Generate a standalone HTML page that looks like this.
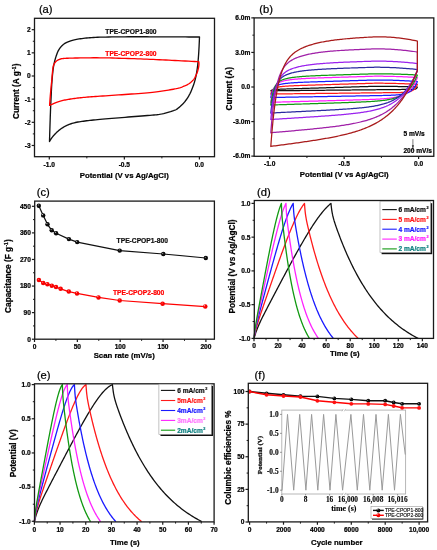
<!DOCTYPE html>
<html><head><meta charset="utf-8"><style>
html,body{margin:0;padding:0;background:#fff;}
body{width:437px;height:550px;overflow:hidden;font-family:"Liberation Sans", sans-serif;}
svg{display:block;will-change:transform;}
</style></head><body>
<svg width="437" height="550" viewBox="0 0 437 550">
<rect width="437" height="550" fill="#fff"/>
<text x="38.9" y="12.9" font-size="11.2" font-weight="normal" text-anchor="start" fill="#000" stroke="#000" stroke-width="0.22" font-family='"Liberation Sans", sans-serif' >(a)</text>
<polyline points="49.5,141.5 49.54,140.23 49.59,138.55 49.65,136.54 49.71,134.31 49.78,131.95 49.86,129.55 49.93,127.2 50,125 50.07,122.87 50.14,120.69 50.22,118.49 50.29,116.28 50.37,114.1 50.45,111.98 50.52,109.94 50.6,108 50.68,106.16 50.75,104.4 50.83,102.7 50.91,101.06 50.98,99.48 51.06,97.95 51.13,96.45 51.2,95 51.27,93.61 51.33,92.29 51.38,91.03 51.44,89.81 51.49,88.62 51.56,87.43 51.62,86.23 51.7,85 51.78,83.73 51.88,82.44 51.97,81.14 52.08,79.84 52.18,78.57 52.29,77.32 52.39,76.13 52.5,75 52.61,73.93 52.71,72.91 52.82,71.94 52.92,71 53.04,70.09 53.15,69.21 53.27,68.35 53.4,67.5 53.53,66.67 53.67,65.88 53.81,65.12 53.96,64.38 54.11,63.65 54.26,62.93 54.43,62.22 54.6,61.5 54.78,60.79 54.96,60.08 55.15,59.38 55.35,58.69 55.55,58.01 55.76,57.34 55.98,56.66 56.2,56 56.43,55.34 56.66,54.67 56.89,54.01 57.14,53.35 57.39,52.71 57.65,52.08 57.92,51.48 58.2,50.9 58.49,50.35 58.79,49.82 59.1,49.31 59.42,48.82 59.75,48.34 60.09,47.88 60.44,47.44 60.8,47 61.17,46.58 61.54,46.17 61.92,45.77 62.31,45.39 62.72,45.02 63.13,44.67 63.56,44.33 64,44 64.45,43.69 64.89,43.41 65.34,43.15 65.81,42.89 66.3,42.65 66.82,42.4 67.38,42.16 68,41.9 68.65,41.63 69.31,41.36 70,41.09 70.73,40.82 71.51,40.55 72.36,40.29 73.29,40.04 74.3,39.8 75.4,39.57 76.56,39.35 77.8,39.14 79.11,38.93 80.48,38.73 81.92,38.55 83.43,38.37 85,38.2 86.6,38.04 88.21,37.89 89.87,37.75 91.61,37.63 93.45,37.5 95.45,37.39 97.62,37.29 100,37.2 102.65,37.12 105.55,37.05 108.64,36.99 111.88,36.94 115.19,36.89 118.52,36.86 121.81,36.83 125,36.8 128.12,36.78 131.25,36.77 134.38,36.77 137.5,36.77 140.62,36.78 143.75,36.78 146.88,36.79 150,36.8 153.13,36.81 156.26,36.82 159.4,36.83 162.53,36.84 165.66,36.86 168.79,36.87 171.9,36.89 175,36.9 178.25,36.91 181.73,36.93 185.3,36.94 188.81,36.96 192.13,36.97 195.11,36.98 197.61,36.99 199.5,37 199.47,37.69 199.43,38.59 199.39,39.67 199.34,40.88 199.28,42.16 199.22,43.47 199.16,44.77 199.1,46 199.04,47.2 198.97,48.43 198.9,49.68 198.83,50.94 198.76,52.21 198.68,53.48 198.59,54.74 198.5,56 198.41,57.26 198.31,58.52 198.21,59.79 198.1,61.06 197.99,62.32 197.87,63.57 197.74,64.8 197.6,66 197.45,67.19 197.29,68.37 197.12,69.54 196.95,70.69 196.77,71.82 196.58,72.91 196.39,73.98 196.2,75 196.01,75.98 195.81,76.91 195.61,77.8 195.4,78.67 195.19,79.51 194.97,80.35 194.74,81.17 194.5,82 194.25,82.83 193.99,83.64 193.72,84.44 193.45,85.23 193.17,86.01 192.88,86.78 192.59,87.55 192.3,88.3 192.01,89.05 191.71,89.78 191.41,90.51 191.1,91.23 190.79,91.94 190.47,92.64 190.14,93.33 189.8,94 189.45,94.66 189.1,95.3 188.75,95.94 188.38,96.56 188.01,97.17 187.62,97.78 187.22,98.39 186.8,99 186.37,99.62 185.92,100.24 185.45,100.86 184.98,101.48 184.49,102.08 184,102.67 183.5,103.25 183,103.8 182.49,104.33 181.98,104.85 181.45,105.35 180.92,105.84 180.39,106.31 179.85,106.76 179.32,107.19 178.8,107.6 178.34,107.97 177.97,108.31 177.63,108.61 177.28,108.91 176.86,109.2 176.33,109.5 175.62,109.83 174.7,110.2 173.52,110.63 172.11,111.1 170.54,111.61 168.84,112.12 167.09,112.63 165.33,113.11 163.61,113.54 162,113.9 160.56,114.18 159.26,114.4 158.02,114.57 156.77,114.71 155.42,114.83 153.9,114.96 152.12,115.11 150,115.3 147.5,115.52 144.66,115.76 141.58,116 138.31,116.26 134.95,116.52 131.55,116.78 128.21,117.04 125,117.3 121.81,117.56 118.52,117.83 115.19,118.1 111.88,118.38 108.64,118.64 105.55,118.91 102.65,119.16 100,119.4 97.62,119.62 95.45,119.83 93.45,120.03 91.61,120.22 89.87,120.41 88.21,120.6 86.6,120.79 85,121 83.44,121.21 81.95,121.41 80.55,121.62 79.2,121.82 77.91,122.04 76.67,122.27 75.47,122.53 74.3,122.8 73.17,123.1 72.09,123.42 71.06,123.76 70.07,124.11 69.13,124.48 68.22,124.85 67.35,125.22 66.5,125.6 65.69,125.98 64.93,126.36 64.21,126.76 63.52,127.16 62.87,127.56 62.23,127.97 61.61,128.38 61,128.8 60.41,129.23 59.83,129.66 59.28,130.1 58.75,130.55 58.24,131 57.74,131.44 57.26,131.87 56.8,132.3 56.36,132.72 55.93,133.12 55.53,133.53 55.14,133.93 54.76,134.32 54.4,134.71 54.05,135.11 53.7,135.5 53.36,135.89 53.04,136.29 52.72,136.68 52.42,137.07 52.13,137.46 51.84,137.84 51.57,138.22 51.3,138.6 51.03,138.99 50.77,139.41 50.5,139.83 50.25,140.24 50.02,140.63 49.81,140.98 49.63,141.28 49.5,141.5" fill="none" stroke="#111" stroke-width="1.35" stroke-linejoin="round" stroke-linecap="round" />
<polyline points="49.6,105.4 49.64,104.76 49.7,103.9 49.77,102.89 49.85,101.76 49.93,100.56 50.02,99.34 50.11,98.14 50.2,97 50.29,95.9 50.39,94.77 50.49,93.62 50.59,92.47 50.69,91.33 50.8,90.19 50.9,89.08 51,88 51.1,86.95 51.2,85.93 51.3,84.93 51.41,83.94 51.51,82.96 51.61,81.98 51.7,80.99 51.8,80 51.89,78.98 51.98,77.94 52.07,76.89 52.16,75.84 52.24,74.82 52.33,73.82 52.41,72.88 52.5,72 52.58,71.18 52.66,70.4 52.73,69.66 52.81,68.96 52.89,68.29 52.98,67.66 53.08,67.07 53.2,66.5 53.34,65.97 53.49,65.49 53.65,65.05 53.83,64.64 54.01,64.26 54.2,63.9 54.4,63.54 54.6,63.2 54.81,62.87 55.01,62.56 55.23,62.27 55.45,61.99 55.68,61.73 55.94,61.48 56.21,61.24 56.5,61 56.82,60.77 57.15,60.54 57.5,60.33 57.88,60.12 58.26,59.92 58.66,59.74 59.07,59.56 59.5,59.4 59.89,59.25 60.23,59.12 60.56,58.99 60.91,58.88 61.33,58.78 61.86,58.68 62.54,58.59 63.4,58.5 64.39,58.42 65.44,58.34 66.6,58.27 67.88,58.21 69.33,58.15 70.98,58.09 72.86,58.05 75,58 77.48,57.96 80.31,57.91 83.39,57.87 86.66,57.83 90.04,57.8 93.44,57.79 96.78,57.78 100,57.8 103.12,57.83 106.25,57.89 109.38,57.95 112.5,58.03 115.62,58.12 118.75,58.21 121.88,58.31 125,58.4 128.12,58.5 131.25,58.6 134.38,58.7 137.5,58.81 140.62,58.93 143.75,59.05 146.88,59.17 150,59.3 153.13,59.44 156.28,59.58 159.43,59.73 162.58,59.88 165.71,60.04 168.83,60.19 171.93,60.35 175,60.5 178.2,60.66 181.59,60.83 185.06,61 188.46,61.17 191.67,61.34 194.55,61.48 196.97,61.61 198.8,61.7 198.81,61.95 198.84,62.26 198.87,62.64 198.9,63.07 198.92,63.53 198.94,64.01 198.93,64.51 198.9,65 198.85,65.51 198.78,66.04 198.7,66.6 198.6,67.17 198.49,67.76 198.37,68.35 198.24,68.93 198.1,69.5 197.95,70.06 197.79,70.63 197.62,71.19 197.44,71.76 197.24,72.32 197.04,72.88 196.83,73.44 196.6,74 196.36,74.56 196.11,75.14 195.85,75.71 195.58,76.28 195.3,76.84 195.01,77.39 194.71,77.91 194.4,78.4 194.08,78.86 193.75,79.3 193.41,79.72 193.06,80.13 192.7,80.51 192.34,80.88 191.97,81.25 191.6,81.6 191.24,81.94 190.88,82.26 190.52,82.57 190.16,82.86 189.78,83.15 189.38,83.43 188.96,83.72 188.5,84 188.02,84.28 187.52,84.56 187,84.84 186.46,85.11 185.9,85.38 185.3,85.65 184.67,85.93 184,86.2 183.32,86.48 182.66,86.75 181.97,87.03 181.25,87.3 180.46,87.58 179.59,87.85 178.61,88.12 177.5,88.4 176.24,88.68 174.86,88.95 173.36,89.23 171.78,89.51 170.13,89.79 168.44,90.06 166.72,90.33 165,90.6 163.31,90.86 161.66,91.12 160,91.37 158.28,91.62 156.47,91.87 154.51,92.11 152.37,92.36 150,92.6 147.35,92.84 144.45,93.09 141.36,93.33 138.12,93.57 134.81,93.81 131.48,94.04 128.19,94.27 125,94.5 121.81,94.73 118.52,94.95 115.19,95.18 111.88,95.4 108.64,95.62 105.55,95.82 102.65,96.02 100,96.2 97.62,96.37 95.45,96.51 93.45,96.65 91.61,96.78 89.87,96.91 88.21,97.03 86.6,97.16 85,97.3 83.45,97.44 81.99,97.59 80.61,97.73 79.29,97.88 78.02,98.02 76.78,98.18 75.54,98.33 74.3,98.5 73.05,98.67 71.82,98.85 70.61,99.03 69.42,99.21 68.26,99.4 67.13,99.6 66.04,99.8 65,100 64,100.21 63.04,100.42 62.12,100.64 61.23,100.87 60.38,101.1 59.56,101.33 58.76,101.56 58,101.8 57.27,102.04 56.57,102.3 55.91,102.55 55.27,102.81 54.67,103.07 54.09,103.32 53.53,103.57 53,103.8 52.48,104.03 51.96,104.27 51.46,104.5 50.99,104.73 50.56,104.93 50.17,105.12 49.85,105.28 49.6,105.4" fill="none" stroke="#ff0000" stroke-width="1.35" stroke-linejoin="round" stroke-linecap="round" />
<text x="105.3" y="34" font-size="6.7" font-weight="bold" text-anchor="start" fill="#111" stroke="#111" stroke-width="0.22" font-family='"Liberation Sans", sans-serif' >TPE-CPOP1-800</text>
<text x="105.3" y="55.8" font-size="6.7" font-weight="bold" text-anchor="start" fill="#ff0000" stroke="#ff0000" stroke-width="0.22" font-family='"Liberation Sans", sans-serif' >TPE-CPOP2-800</text>
<rect x="34.5" y="18.3" width="180" height="138.4" fill="none" stroke="#1a1a1a" stroke-width="1.3"/>
<line x1="31.7" y1="29.68" x2="34.5" y2="29.68" stroke="#1a1a1a" stroke-width="1.2" />
<text x="30.7" y="32.03" font-size="6.6" font-weight="bold" text-anchor="end" fill="#000" stroke="#000" stroke-width="0.22" font-family='"Liberation Sans", sans-serif' >2</text>
<line x1="31.7" y1="52.84" x2="34.5" y2="52.84" stroke="#1a1a1a" stroke-width="1.2" />
<text x="30.7" y="55.19" font-size="6.6" font-weight="bold" text-anchor="end" fill="#000" stroke="#000" stroke-width="0.22" font-family='"Liberation Sans", sans-serif' >1</text>
<line x1="31.7" y1="76" x2="34.5" y2="76" stroke="#1a1a1a" stroke-width="1.2" />
<text x="30.7" y="78.35" font-size="6.6" font-weight="bold" text-anchor="end" fill="#000" stroke="#000" stroke-width="0.22" font-family='"Liberation Sans", sans-serif' >0</text>
<line x1="31.7" y1="99.16" x2="34.5" y2="99.16" stroke="#1a1a1a" stroke-width="1.2" />
<text x="30.7" y="101.51" font-size="6.6" font-weight="bold" text-anchor="end" fill="#000" stroke="#000" stroke-width="0.22" font-family='"Liberation Sans", sans-serif' >-1</text>
<line x1="31.7" y1="122.32" x2="34.5" y2="122.32" stroke="#1a1a1a" stroke-width="1.2" />
<text x="30.7" y="124.67" font-size="6.6" font-weight="bold" text-anchor="end" fill="#000" stroke="#000" stroke-width="0.22" font-family='"Liberation Sans", sans-serif' >-2</text>
<line x1="31.7" y1="145.48" x2="34.5" y2="145.48" stroke="#1a1a1a" stroke-width="1.2" />
<text x="30.7" y="147.83" font-size="6.6" font-weight="bold" text-anchor="end" fill="#000" stroke="#000" stroke-width="0.22" font-family='"Liberation Sans", sans-serif' >-3</text>
<line x1="32.82" y1="41.26" x2="34.5" y2="41.26" stroke="#1a1a1a" stroke-width="1" />
<line x1="32.82" y1="64.42" x2="34.5" y2="64.42" stroke="#1a1a1a" stroke-width="1" />
<line x1="32.82" y1="87.58" x2="34.5" y2="87.58" stroke="#1a1a1a" stroke-width="1" />
<line x1="32.82" y1="110.74" x2="34.5" y2="110.74" stroke="#1a1a1a" stroke-width="1" />
<line x1="32.82" y1="133.9" x2="34.5" y2="133.9" stroke="#1a1a1a" stroke-width="1" />
<line x1="49.3" y1="156.7" x2="49.3" y2="159.5" stroke="#1a1a1a" stroke-width="1.2" />
<text x="49.3" y="166.5" font-size="6.6" font-weight="bold" text-anchor="middle" fill="#000" stroke="#000" stroke-width="0.22" font-family='"Liberation Sans", sans-serif' >-1.0</text>
<line x1="124.35" y1="156.7" x2="124.35" y2="159.5" stroke="#1a1a1a" stroke-width="1.2" />
<text x="124.35" y="166.5" font-size="6.6" font-weight="bold" text-anchor="middle" fill="#000" stroke="#000" stroke-width="0.22" font-family='"Liberation Sans", sans-serif' >-0.5</text>
<line x1="199.4" y1="156.7" x2="199.4" y2="159.5" stroke="#1a1a1a" stroke-width="1.2" />
<text x="199.4" y="166.5" font-size="6.6" font-weight="bold" text-anchor="middle" fill="#000" stroke="#000" stroke-width="0.22" font-family='"Liberation Sans", sans-serif' >0.0</text>
<line x1="86.83" y1="156.7" x2="86.83" y2="158.38" stroke="#1a1a1a" stroke-width="1" />
<line x1="161.88" y1="156.7" x2="161.88" y2="158.38" stroke="#1a1a1a" stroke-width="1" />
<text x="124.3" y="177.6" font-size="7.8" font-weight="bold" text-anchor="middle" fill="#000" stroke="#000" stroke-width="0.22" font-family='"Liberation Sans", sans-serif' >Potential (V vs Ag/AgCl)</text>
<text transform="translate(19.3,91.3) rotate(-90)" font-size="8.25" font-weight="bold" text-anchor="middle" stroke="#000" stroke-width="0.22" font-family='"Liberation Sans", sans-serif'>Current (A g<tspan dy="-3.3" dx="0.3" font-size="4.8">-1</tspan><tspan dy="3.3" dx="0.3">)</tspan></text>
<text x="259.3" y="12.9" font-size="11.2" font-weight="normal" text-anchor="start" fill="#000" stroke="#000" stroke-width="0.22" font-family='"Liberation Sans", sans-serif' >(b)</text>
<polyline points="270.8,90.8 270.82,90.79 270.86,90.76 270.93,90.71 271.02,90.65 271.12,90.58 271.25,90.51 271.39,90.43 271.55,90.35 271.73,90.27 271.92,90.19 272.13,90.12 272.35,90.04 272.6,89.97 272.85,89.91 273.12,89.84 273.41,89.79 273.71,89.74 274.03,89.69 274.36,89.64 274.7,89.6 275.06,89.56 275.43,89.53 275.82,89.49 276.21,89.46 276.63,89.43 277.05,89.4 277.49,89.38 277.95,89.35 278.41,89.33 278.89,89.3 279.38,89.28 279.89,89.25 280.4,89.23 280.94,89.2 281.48,89.18 282.03,89.16 282.6,89.13 283.18,89.11 283.77,89.09 284.38,89.07 285,89.04 285.63,89.02 286.27,89 286.92,88.97 287.59,88.95 288.26,88.93 288.95,88.9 289.65,88.88 290.37,88.86 291.09,88.83 291.83,88.81 292.58,88.79 293.34,88.76 294.11,88.74 294.89,88.71 295.68,88.69 296.49,88.66 297.31,88.64 298.13,88.61 298.97,88.59 299.82,88.56 300.69,88.53 301.56,88.51 302.44,88.48 303.34,88.45 304.25,88.42 305.16,88.4 306.09,88.37 307.03,88.34 307.98,88.31 308.94,88.28 309.92,88.25 310.9,88.22 311.89,88.19 312.9,88.16 313.92,88.13 314.94,88.1 315.98,88.07 317.03,88.04 318.09,88.01 319.16,87.98 320.24,87.94 321.33,87.91 322.43,87.88 323.54,87.84 324.66,87.81 325.79,87.78 326.94,87.74 328.09,87.71 329.25,87.67 330.43,87.64 331.61,87.6 332.81,87.57 334.01,87.53 335.23,87.49 336.45,87.46 337.69,87.42 338.94,87.38 340.19,87.34 341.46,87.31 342.74,87.27 344.02,87.23 345.32,87.19 346.63,87.15 347.95,87.11 349.27,87.07 350.61,87.03 351.96,86.99 353.32,86.95 354.68,86.91 356.06,86.87 357.45,86.83 358.85,86.78 360.25,86.74 361.67,86.7 363.1,86.66 364.54,86.61 365.98,86.57 367.44,86.53 368.91,86.48 370.38,86.44 371.87,86.39 373.36,86.35 374.87,86.3 376.39,86.3 377.91,86.3 379.45,86.31 380.99,86.31 382.55,86.32 384.11,86.33 385.68,86.34 387.27,86.36 388.86,86.37 390.46,86.39 392.07,86.41 393.7,86.44 395.33,86.46 396.97,86.49 398.62,86.52 400.28,86.55 401.95,86.58 403.63,86.62 405.32,86.66 407.01,86.7 408.72,86.74 410.44,86.79 412.16,86.84 413.9,86.89 415.65,86.94 417.4,87 417.4,87 417.35,87.11 417.25,87.33 417.12,87.59 416.96,87.86 416.77,88.13 416.55,88.37 416.31,88.58 416.05,88.76 415.77,88.91 415.48,89.03 415.16,89.13 414.82,89.2 414.47,89.25 414.1,89.29 413.72,89.32 413.32,89.34 412.9,89.36 412.47,89.37 412.02,89.38 411.57,89.39 411.09,89.4 410.6,89.4 410.1,89.41 409.59,89.42 409.06,89.42 408.52,89.43 407.97,89.43 407.4,89.44 406.83,89.44 406.24,89.45 405.64,89.46 405.02,89.46 404.4,89.47 403.76,89.47 403.11,89.48 402.46,89.49 401.79,89.49 401.11,89.5 400.41,89.51 399.71,89.51 399,89.52 398.28,89.53 397.54,89.54 396.8,89.54 396.04,89.55 395.28,89.56 394.5,89.57 393.72,89.57 392.93,89.58 392.12,89.59 391.31,89.6 390.49,89.61 389.65,89.61 388.81,89.62 387.96,89.63 387.1,89.64 386.23,89.65 385.35,89.66 384.46,89.67 383.56,89.68 382.65,89.68 381.74,89.69 380.81,89.7 379.88,89.71 378.94,89.72 377.99,89.73 377.03,89.74 376.06,89.75 375.08,89.76 374.09,89.77 373.1,89.78 372.1,89.79 371.09,89.8 370.07,89.81 369.04,89.82 368,89.83 366.96,89.84 365.91,89.85 364.85,89.86 363.78,89.87 362.7,89.88 361.62,89.89 360.53,89.91 359.43,89.92 358.32,89.93 357.2,89.94 356.08,89.95 354.95,89.96 353.81,89.97 352.66,89.98 351.5,90 350.34,90.01 349.17,90.02 347.99,90.03 346.81,90.04 345.62,90.05 344.42,90.07 343.21,90.08 341.99,90.09 340.77,90.1 339.54,90.11 338.31,90.13 337.06,90.14 335.81,90.15 334.55,90.16 333.28,90.18 332.01,90.19 330.73,90.2 329.44,90.22 328.15,90.23 326.85,90.24 325.54,90.25 324.22,90.27 322.9,90.28 321.57,90.29 320.23,90.31 318.89,90.32 317.54,90.33 316.18,90.35 314.82,90.36 313.45,90.37 312.07,90.39 310.68,90.4 309.29,90.42 307.89,90.43 306.49,90.44 305.08,90.46 303.66,90.47 302.23,90.49 300.8,90.5 299.36,90.52 297.92,90.53 296.47,90.54 295.01,90.56 293.54,90.57 292.07,90.59 290.59,90.6 289.11,90.62 287.62,90.63 286.12,90.65 284.62,90.66 283.11,90.68 281.59,90.69 280.07,90.71 278.54,90.72 277,90.74 275.46,90.75 273.91,90.77 272.36,90.78 270.8,90.8" fill="none" stroke="#111111" stroke-width="1.25" stroke-linejoin="round" stroke-linecap="round" />
<polyline points="270.8,94 270.82,93.94 270.86,93.8 270.93,93.59 271.02,93.32 271.12,93.01 271.25,92.67 271.39,92.31 271.55,91.93 271.73,91.54 271.92,91.16 272.13,90.78 272.35,90.41 272.6,90.06 272.85,89.73 273.12,89.42 273.41,89.13 273.71,88.87 274.03,88.62 274.36,88.4 274.7,88.19 275.06,88.01 275.43,87.84 275.82,87.69 276.21,87.55 276.63,87.42 277.05,87.3 277.49,87.2 277.95,87.1 278.41,87.01 278.89,86.93 279.38,86.85 279.89,86.77 280.4,86.7 280.94,86.64 281.48,86.57 282.03,86.51 282.6,86.46 283.18,86.4 283.77,86.35 284.38,86.3 285,86.25 285.63,86.2 286.27,86.16 286.92,86.11 287.59,86.07 288.26,86.03 288.95,85.99 289.65,85.95 290.37,85.91 291.09,85.87 291.83,85.83 292.58,85.8 293.34,85.76 294.11,85.73 294.89,85.7 295.68,85.66 296.49,85.63 297.31,85.6 298.13,85.57 298.97,85.53 299.82,85.5 300.69,85.47 301.56,85.44 302.44,85.41 303.34,85.38 304.25,85.35 305.16,85.32 306.09,85.29 307.03,85.26 307.98,85.23 308.94,85.2 309.92,85.16 310.9,85.13 311.89,85.1 312.9,85.07 313.92,85.04 314.94,85.01 315.98,84.98 317.03,84.94 318.09,84.91 319.16,84.88 320.24,84.85 321.33,84.81 322.43,84.78 323.54,84.75 324.66,84.71 325.79,84.68 326.94,84.64 328.09,84.61 329.25,84.57 330.43,84.54 331.61,84.5 332.81,84.47 334.01,84.43 335.23,84.39 336.45,84.36 337.69,84.32 338.94,84.28 340.19,84.24 341.46,84.21 342.74,84.17 344.02,84.13 345.32,84.09 346.63,84.05 347.95,84.01 349.27,83.97 350.61,83.93 351.96,83.89 353.32,83.85 354.68,83.81 356.06,83.77 357.45,83.73 358.85,83.68 360.25,83.64 361.67,83.6 363.1,83.56 364.54,83.51 365.98,83.47 367.44,83.43 368.91,83.38 370.38,83.34 371.87,83.29 373.36,83.25 374.87,83.2 376.39,83.2 377.91,83.21 379.45,83.21 380.99,83.22 382.55,83.23 384.11,83.25 385.68,83.27 387.27,83.29 388.86,83.32 390.46,83.35 392.07,83.38 393.7,83.41 395.33,83.45 396.97,83.5 398.62,83.54 400.28,83.59 401.95,83.64 403.63,83.7 405.32,83.76 407.01,83.83 408.72,83.9 410.44,83.97 412.16,84.05 413.9,84.13 415.65,84.21 417.4,84.3 417.4,84.3 417.35,84.42 417.25,84.65 417.12,84.95 416.96,85.3 416.77,85.7 416.55,86.11 416.31,86.54 416.05,86.98 415.77,87.41 415.48,87.84 415.16,88.25 414.82,88.65 414.47,89.02 414.1,89.38 413.72,89.71 413.32,90.02 412.9,90.3 412.47,90.56 412.02,90.8 411.57,91.01 411.09,91.2 410.6,91.38 410.1,91.53 409.59,91.67 409.06,91.79 408.52,91.89 407.97,91.99 407.4,92.07 406.83,92.14 406.24,92.2 405.64,92.26 405.02,92.3 404.4,92.34 403.76,92.38 403.11,92.41 402.46,92.44 401.79,92.46 401.11,92.49 400.41,92.51 399.71,92.52 399,92.54 398.28,92.55 397.54,92.57 396.8,92.58 396.04,92.59 395.28,92.6 394.5,92.61 393.72,92.62 392.93,92.63 392.12,92.65 391.31,92.66 390.49,92.66 389.65,92.67 388.81,92.68 387.96,92.69 387.1,92.7 386.23,92.71 385.35,92.72 384.46,92.73 383.56,92.74 382.65,92.75 381.74,92.76 380.81,92.78 379.88,92.79 378.94,92.8 377.99,92.81 377.03,92.82 376.06,92.83 375.08,92.84 374.09,92.85 373.1,92.86 372.1,92.87 371.09,92.88 370.07,92.89 369.04,92.91 368,92.92 366.96,92.93 365.91,92.94 364.85,92.95 363.78,92.96 362.7,92.98 361.62,92.99 360.53,93 359.43,93.01 358.32,93.03 357.2,93.04 356.08,93.05 354.95,93.06 353.81,93.08 352.66,93.09 351.5,93.1 350.34,93.11 349.17,93.13 347.99,93.14 346.81,93.15 345.62,93.17 344.42,93.18 343.21,93.19 341.99,93.21 340.77,93.22 339.54,93.23 338.31,93.25 337.06,93.26 335.81,93.28 334.55,93.29 333.28,93.3 332.01,93.32 330.73,93.33 329.44,93.35 328.15,93.36 326.85,93.38 325.54,93.39 324.22,93.41 322.9,93.42 321.57,93.43 320.23,93.45 318.89,93.46 317.54,93.48 316.18,93.49 314.82,93.51 313.45,93.53 312.07,93.54 310.68,93.56 309.29,93.57 307.89,93.59 306.49,93.6 305.08,93.62 303.66,93.63 302.23,93.65 300.8,93.67 299.36,93.68 297.92,93.7 296.47,93.71 295.01,93.73 293.54,93.75 292.07,93.76 290.59,93.78 289.11,93.8 287.62,93.81 286.12,93.83 284.62,93.85 283.11,93.86 281.59,93.88 280.07,93.9 278.54,93.91 277,93.93 275.46,93.95 273.91,93.97 272.36,93.98 270.8,94" fill="none" stroke="#ff1a1a" stroke-width="1.25" stroke-linejoin="round" stroke-linecap="round" />
<polyline points="270.8,97.5 270.82,97.41 270.86,97.18 270.93,96.84 271.02,96.41 271.12,95.91 271.25,95.34 271.39,94.74 271.55,94.1 271.73,93.45 271.92,92.79 272.13,92.13 272.35,91.49 272.6,90.86 272.85,90.26 273.12,89.69 273.41,89.15 273.71,88.65 274.03,88.18 274.36,87.74 274.7,87.34 275.06,86.97 275.43,86.64 275.82,86.33 276.21,86.05 276.63,85.79 277.05,85.56 277.49,85.35 277.95,85.15 278.41,84.97 278.89,84.81 279.38,84.65 279.89,84.51 280.4,84.38 280.94,84.26 281.48,84.14 282.03,84.03 282.6,83.93 283.18,83.83 283.77,83.74 284.38,83.65 285,83.56 285.63,83.48 286.27,83.4 286.92,83.33 287.59,83.26 288.26,83.19 288.95,83.12 289.65,83.06 290.37,83 291.09,82.94 291.83,82.88 292.58,82.83 293.34,82.78 294.11,82.73 294.89,82.68 295.68,82.63 296.49,82.58 297.31,82.54 298.13,82.49 298.97,82.45 299.82,82.41 300.69,82.37 301.56,82.33 302.44,82.29 303.34,82.25 304.25,82.22 305.16,82.18 306.09,82.14 307.03,82.11 307.98,82.07 308.94,82.04 309.92,82 310.9,81.97 311.89,81.93 312.9,81.9 313.92,81.86 314.94,81.83 315.98,81.79 317.03,81.76 318.09,81.73 319.16,81.69 320.24,81.66 321.33,81.62 322.43,81.59 323.54,81.55 324.66,81.52 325.79,81.48 326.94,81.45 328.09,81.41 329.25,81.38 330.43,81.34 331.61,81.3 332.81,81.27 334.01,81.23 335.23,81.2 336.45,81.16 337.69,81.12 338.94,81.08 340.19,81.04 341.46,81.01 342.74,80.97 344.02,80.93 345.32,80.89 346.63,80.85 347.95,80.81 349.27,80.77 350.61,80.73 351.96,80.69 353.32,80.65 354.68,80.61 356.06,80.57 357.45,80.53 358.85,80.48 360.25,80.44 361.67,80.4 363.1,80.36 364.54,80.31 365.98,80.27 367.44,80.23 368.91,80.18 370.38,80.14 371.87,80.09 373.36,80.05 374.87,80 376.39,80 377.91,80.01 379.45,80.02 380.99,80.03 382.55,80.05 384.11,80.07 385.68,80.09 387.27,80.12 388.86,80.16 390.46,80.2 392.07,80.24 393.7,80.29 395.33,80.34 396.97,80.4 398.62,80.46 400.28,80.53 401.95,80.61 403.63,80.68 405.32,80.77 407.01,80.85 408.72,80.95 410.44,81.05 412.16,81.15 413.9,81.26 415.65,81.38 417.4,81.5 417.4,81.5 417.35,81.62 417.25,81.85 417.12,82.16 416.96,82.53 416.77,82.95 416.55,83.41 416.31,83.89 416.05,84.4 415.77,84.91 415.48,85.44 415.16,85.97 414.82,86.5 414.47,87.02 414.1,87.54 413.72,88.04 413.32,88.52 412.9,88.99 412.47,89.45 412.02,89.88 411.57,90.29 411.09,90.68 410.6,91.06 410.1,91.41 409.59,91.73 409.06,92.04 408.52,92.33 407.97,92.6 407.4,92.84 406.83,93.07 406.24,93.29 405.64,93.48 405.02,93.66 404.4,93.83 403.76,93.98 403.11,94.12 402.46,94.25 401.79,94.36 401.11,94.47 400.41,94.57 399.71,94.66 399,94.74 398.28,94.81 397.54,94.88 396.8,94.94 396.04,94.99 395.28,95.04 394.5,95.09 393.72,95.13 392.93,95.17 392.12,95.21 391.31,95.24 390.49,95.28 389.65,95.31 388.81,95.33 387.96,95.36 387.1,95.38 386.23,95.41 385.35,95.43 384.46,95.45 383.56,95.47 382.65,95.5 381.74,95.52 380.81,95.54 379.88,95.56 378.94,95.57 377.99,95.59 377.03,95.61 376.06,95.63 375.08,95.65 374.09,95.67 373.1,95.69 372.1,95.7 371.09,95.72 370.07,95.74 369.04,95.76 368,95.78 366.96,95.8 365.91,95.82 364.85,95.84 363.78,95.86 362.7,95.87 361.62,95.89 360.53,95.91 359.43,95.93 358.32,95.95 357.2,95.97 356.08,95.99 354.95,96.01 353.81,96.03 352.66,96.05 351.5,96.07 350.34,96.09 349.17,96.11 347.99,96.13 346.81,96.16 345.62,96.18 344.42,96.2 343.21,96.22 341.99,96.24 340.77,96.26 339.54,96.28 338.31,96.31 337.06,96.33 335.81,96.35 334.55,96.37 333.28,96.4 332.01,96.42 330.73,96.44 329.44,96.46 328.15,96.49 326.85,96.51 325.54,96.53 324.22,96.56 322.9,96.58 321.57,96.6 320.23,96.63 318.89,96.65 317.54,96.67 316.18,96.7 314.82,96.72 313.45,96.75 312.07,96.77 310.68,96.79 309.29,96.82 307.89,96.84 306.49,96.87 305.08,96.89 303.66,96.92 302.23,96.94 300.8,96.97 299.36,96.99 297.92,97.02 296.47,97.05 295.01,97.07 293.54,97.1 292.07,97.12 290.59,97.15 289.11,97.18 287.62,97.2 286.12,97.23 284.62,97.26 283.11,97.28 281.59,97.31 280.07,97.34 278.54,97.36 277,97.39 275.46,97.42 273.91,97.44 272.36,97.47 270.8,97.5" fill="none" stroke="#1a1aff" stroke-width="1.25" stroke-linejoin="round" stroke-linecap="round" />
<polyline points="270.8,102.3 270.82,102.17 270.86,101.85 270.93,101.37 271.02,100.77 271.12,100.06 271.25,99.25 271.39,98.39 271.55,97.47 271.73,96.51 271.92,95.54 272.13,94.56 272.35,93.59 272.6,92.64 272.85,91.72 273.12,90.83 273.41,89.98 273.71,89.17 274.03,88.41 274.36,87.7 274.7,87.04 275.06,86.43 275.43,85.86 275.82,85.34 276.21,84.86 276.63,84.42 277.05,84.01 277.49,83.64 277.95,83.3 278.41,82.99 278.89,82.7 279.38,82.44 279.89,82.19 280.4,81.97 280.94,81.76 281.48,81.56 282.03,81.38 282.6,81.2 283.18,81.04 283.77,80.89 284.38,80.74 285,80.61 285.63,80.48 286.27,80.35 286.92,80.23 287.59,80.12 288.26,80.01 288.95,79.91 289.65,79.81 290.37,79.71 291.09,79.62 291.83,79.54 292.58,79.45 293.34,79.37 294.11,79.29 294.89,79.22 295.68,79.15 296.49,79.08 297.31,79.01 298.13,78.95 298.97,78.89 299.82,78.83 300.69,78.77 301.56,78.72 302.44,78.66 303.34,78.61 304.25,78.56 305.16,78.51 306.09,78.47 307.03,78.42 307.98,78.37 308.94,78.33 309.92,78.29 310.9,78.24 311.89,78.2 312.9,78.16 313.92,78.12 314.94,78.08 315.98,78.04 317.03,78 318.09,77.96 319.16,77.93 320.24,77.89 321.33,77.85 322.43,77.81 323.54,77.78 324.66,77.74 325.79,77.7 326.94,77.66 328.09,77.63 329.25,77.59 330.43,77.55 331.61,77.51 332.81,77.48 334.01,77.44 335.23,77.4 336.45,77.36 337.69,77.32 338.94,77.29 340.19,77.25 341.46,77.21 342.74,77.17 344.02,77.13 345.32,77.09 346.63,77.05 347.95,77.01 349.27,76.97 350.61,76.93 351.96,76.89 353.32,76.85 354.68,76.81 356.06,76.77 357.45,76.72 358.85,76.68 360.25,76.64 361.67,76.6 363.1,76.55 364.54,76.51 365.98,76.47 367.44,76.42 368.91,76.38 370.38,76.33 371.87,76.29 373.36,76.25 374.87,76.2 376.39,76.2 377.91,76.2 379.45,76.21 380.99,76.22 382.55,76.24 384.11,76.26 385.68,76.28 387.27,76.31 388.86,76.34 390.46,76.37 392.07,76.41 393.7,76.45 395.33,76.5 396.97,76.55 398.62,76.6 400.28,76.66 401.95,76.72 403.63,76.79 405.32,76.86 407.01,76.94 408.72,77.02 410.44,77.11 412.16,77.2 413.9,77.29 415.65,77.39 417.4,77.5 417.4,77.5 417.35,77.62 417.25,77.85 417.12,78.17 416.96,78.55 416.77,78.99 416.55,79.47 416.31,79.98 416.05,80.53 415.77,81.1 415.48,81.69 415.16,82.3 414.82,82.92 414.47,83.54 414.1,84.17 413.72,84.8 413.32,85.42 412.9,86.04 412.47,86.65 412.02,87.25 411.57,87.84 411.09,88.42 410.6,88.98 410.1,89.53 409.59,90.06 409.06,90.57 408.52,91.06 407.97,91.54 407.4,91.99 406.83,92.43 406.24,92.85 405.64,93.25 405.02,93.63 404.4,93.99 403.76,94.34 403.11,94.67 402.46,94.98 401.79,95.27 401.11,95.54 400.41,95.81 399.71,96.05 399,96.28 398.28,96.5 397.54,96.71 396.8,96.9 396.04,97.08 395.28,97.25 394.5,97.41 393.72,97.56 392.93,97.7 392.12,97.83 391.31,97.95 390.49,98.07 389.65,98.17 388.81,98.27 387.96,98.37 387.1,98.46 386.23,98.54 385.35,98.62 384.46,98.7 383.56,98.77 382.65,98.83 381.74,98.89 380.81,98.95 379.88,99.01 378.94,99.06 377.99,99.12 377.03,99.17 376.06,99.21 375.08,99.26 374.09,99.3 373.1,99.34 372.1,99.39 371.09,99.43 370.07,99.47 369.04,99.5 368,99.54 366.96,99.58 365.91,99.61 364.85,99.65 363.78,99.68 362.7,99.72 361.62,99.75 360.53,99.79 359.43,99.82 358.32,99.86 357.2,99.89 356.08,99.92 354.95,99.96 353.81,99.99 352.66,100.02 351.5,100.06 350.34,100.09 349.17,100.12 347.99,100.16 346.81,100.19 345.62,100.22 344.42,100.26 343.21,100.29 341.99,100.33 340.77,100.36 339.54,100.39 338.31,100.43 337.06,100.46 335.81,100.5 334.55,100.53 333.28,100.57 332.01,100.6 330.73,100.64 329.44,100.68 328.15,100.71 326.85,100.75 325.54,100.78 324.22,100.82 322.9,100.86 321.57,100.89 320.23,100.93 318.89,100.97 317.54,101.01 316.18,101.04 314.82,101.08 313.45,101.12 312.07,101.16 310.68,101.2 309.29,101.23 307.89,101.27 306.49,101.31 305.08,101.35 303.66,101.39 302.23,101.43 300.8,101.47 299.36,101.51 297.92,101.55 296.47,101.59 295.01,101.63 293.54,101.67 292.07,101.71 290.59,101.75 289.11,101.79 287.62,101.83 286.12,101.88 284.62,101.92 283.11,101.96 281.59,102 280.07,102.04 278.54,102.09 277,102.13 275.46,102.17 273.91,102.21 272.36,102.26 270.8,102.3" fill="none" stroke="#ff1aff" stroke-width="1.25" stroke-linejoin="round" stroke-linecap="round" />
<polyline points="270.8,105 270.82,104.86 270.86,104.51 270.93,103.99 271.02,103.33 271.12,102.55 271.25,101.66 271.39,100.7 271.55,99.67 271.73,98.6 271.92,97.49 272.13,96.38 272.35,95.26 272.6,94.15 272.85,93.07 273.12,92.01 273.41,91 273.71,90.02 274.03,89.1 274.36,88.22 274.7,87.39 275.06,86.62 275.43,85.9 275.82,85.23 276.21,84.61 276.63,84.03 277.05,83.5 277.49,83.01 277.95,82.56 278.41,82.14 278.89,81.76 279.38,81.4 279.89,81.08 280.4,80.77 280.94,80.49 281.48,80.23 282.03,79.99 282.6,79.76 283.18,79.55 283.77,79.35 284.38,79.16 285,78.98 285.63,78.81 286.27,78.65 286.92,78.49 287.59,78.35 288.26,78.21 288.95,78.07 289.65,77.94 290.37,77.82 291.09,77.7 291.83,77.59 292.58,77.48 293.34,77.38 294.11,77.28 294.89,77.18 295.68,77.09 296.49,77 297.31,76.92 298.13,76.84 298.97,76.76 299.82,76.68 300.69,76.61 301.56,76.54 302.44,76.47 303.34,76.41 304.25,76.34 305.16,76.28 306.09,76.22 307.03,76.16 307.98,76.11 308.94,76.05 309.92,76 310.9,75.95 311.89,75.9 312.9,75.85 313.92,75.8 314.94,75.76 315.98,75.71 317.03,75.67 318.09,75.62 319.16,75.58 320.24,75.54 321.33,75.49 322.43,75.45 323.54,75.41 324.66,75.37 325.79,75.33 326.94,75.29 328.09,75.25 329.25,75.21 330.43,75.17 331.61,75.13 332.81,75.09 334.01,75.05 335.23,75.01 336.45,74.97 337.69,74.93 338.94,74.89 340.19,74.85 341.46,74.81 342.74,74.77 344.02,74.73 345.32,74.69 346.63,74.65 347.95,74.61 349.27,74.57 350.61,74.53 351.96,74.49 353.32,74.44 354.68,74.4 356.06,74.36 357.45,74.32 358.85,74.28 360.25,74.23 361.67,74.19 363.1,74.15 364.54,74.1 365.98,74.06 367.44,74.02 368.91,73.97 370.38,73.93 371.87,73.88 373.36,73.84 374.87,73.79 376.39,73.79 377.91,73.79 379.45,73.8 380.99,73.81 382.55,73.83 384.11,73.84 385.68,73.87 387.27,73.89 388.86,73.92 390.46,73.95 392.07,73.99 393.7,74.02 395.33,74.07 396.97,74.11 398.62,74.16 400.28,74.22 401.95,74.28 403.63,74.34 405.32,74.41 407.01,74.48 408.72,74.55 410.44,74.63 412.16,74.72 413.9,74.81 415.65,74.9 417.4,75 417.4,75 417.35,75.12 417.25,75.35 417.12,75.67 416.96,76.06 416.77,76.5 416.55,76.99 416.31,77.52 416.05,78.08 415.77,78.67 415.48,79.28 415.16,79.92 414.82,80.57 414.47,81.23 414.1,81.9 413.72,82.58 413.32,83.26 412.9,83.93 412.47,84.61 412.02,85.28 411.57,85.94 411.09,86.6 410.6,87.24 410.1,87.88 409.59,88.5 409.06,89.1 408.52,89.69 407.97,90.27 407.4,90.83 406.83,91.37 406.24,91.89 405.64,92.4 405.02,92.89 404.4,93.36 403.76,93.81 403.11,94.25 402.46,94.66 401.79,95.06 401.11,95.44 400.41,95.81 399.71,96.16 399,96.49 398.28,96.81 397.54,97.11 396.8,97.39 396.04,97.67 395.28,97.93 394.5,98.17 393.72,98.4 392.93,98.62 392.12,98.83 391.31,99.03 390.49,99.22 389.65,99.39 388.81,99.56 387.96,99.72 387.1,99.87 386.23,100.01 385.35,100.14 384.46,100.27 383.56,100.39 382.65,100.5 381.74,100.61 380.81,100.71 379.88,100.81 378.94,100.9 377.99,100.99 377.03,101.07 376.06,101.15 375.08,101.23 374.09,101.3 373.1,101.37 372.1,101.43 371.09,101.5 370.07,101.56 369.04,101.62 368,101.68 366.96,101.73 365.91,101.78 364.85,101.84 363.78,101.89 362.7,101.94 361.62,101.99 360.53,102.03 359.43,102.08 358.32,102.12 357.2,102.17 356.08,102.21 354.95,102.26 353.81,102.3 352.66,102.34 351.5,102.39 350.34,102.43 349.17,102.47 347.99,102.51 346.81,102.55 345.62,102.59 344.42,102.64 343.21,102.68 341.99,102.72 340.77,102.76 339.54,102.8 338.31,102.84 337.06,102.88 335.81,102.92 334.55,102.96 333.28,103.01 332.01,103.05 330.73,103.09 329.44,103.13 328.15,103.17 326.85,103.21 325.54,103.26 324.22,103.3 322.9,103.34 321.57,103.38 320.23,103.43 318.89,103.47 317.54,103.51 316.18,103.56 314.82,103.6 313.45,103.64 312.07,103.69 310.68,103.73 309.29,103.78 307.89,103.82 306.49,103.87 305.08,103.91 303.66,103.96 302.23,104 300.8,104.05 299.36,104.09 297.92,104.14 296.47,104.18 295.01,104.23 293.54,104.28 292.07,104.32 290.59,104.37 289.11,104.42 287.62,104.47 286.12,104.51 284.62,104.56 283.11,104.61 281.59,104.66 280.07,104.71 278.54,104.75 277,104.8 275.46,104.85 273.91,104.9 272.36,104.95 270.8,105" fill="none" stroke="#109a10" stroke-width="1.25" stroke-linejoin="round" stroke-linecap="round" />
<polyline points="270.8,113 270.82,112.84 270.86,112.44 270.93,111.84 271.02,111.08 271.12,110.17 271.25,109.13 271.39,107.98 271.55,106.74 271.73,105.43 271.92,104.06 272.13,102.65 272.35,101.22 272.6,99.77 272.85,98.33 273.12,96.89 273.41,95.48 273.71,94.1 274.03,92.75 274.36,91.45 274.7,90.2 275.06,89 275.43,87.85 275.82,86.76 276.21,85.73 276.63,84.76 277.05,83.84 277.49,82.98 277.95,82.17 278.41,81.42 278.89,80.71 279.38,80.05 279.89,79.44 280.4,78.87 280.94,78.33 281.48,77.83 282.03,77.37 282.6,76.93 283.18,76.53 283.77,76.15 284.38,75.79 285,75.46 285.63,75.14 286.27,74.84 286.92,74.56 287.59,74.29 288.26,74.04 288.95,73.8 289.65,73.57 290.37,73.35 291.09,73.14 291.83,72.94 292.58,72.75 293.34,72.57 294.11,72.39 294.89,72.22 295.68,72.05 296.49,71.9 297.31,71.75 298.13,71.6 298.97,71.46 299.82,71.32 300.69,71.19 301.56,71.06 302.44,70.94 303.34,70.82 304.25,70.71 305.16,70.6 306.09,70.5 307.03,70.39 307.98,70.29 308.94,70.2 309.92,70.11 310.9,70.02 311.89,69.93 312.9,69.85 313.92,69.76 314.94,69.69 315.98,69.61 317.03,69.54 318.09,69.46 319.16,69.39 320.24,69.33 321.33,69.26 322.43,69.2 323.54,69.13 324.66,69.07 325.79,69.01 326.94,68.95 328.09,68.9 329.25,68.84 330.43,68.79 331.61,68.73 332.81,68.68 334.01,68.63 335.23,68.58 336.45,68.53 337.69,68.48 338.94,68.43 340.19,68.38 341.46,68.33 342.74,68.28 344.02,68.24 345.32,68.19 346.63,68.14 347.95,68.1 349.27,68.05 350.61,68 351.96,67.96 353.32,67.91 354.68,67.87 356.06,67.82 357.45,67.78 358.85,67.73 360.25,67.68 361.67,67.64 363.1,67.59 364.54,67.55 365.98,67.5 367.44,67.46 368.91,67.41 370.38,67.36 371.87,67.32 373.36,67.27 374.87,67.23 376.39,67.22 377.91,67.23 379.45,67.24 380.99,67.26 382.55,67.29 384.11,67.32 385.68,67.36 387.27,67.41 388.86,67.46 390.46,67.52 392.07,67.58 393.7,67.66 395.33,67.74 396.97,67.83 398.62,67.92 400.28,68.03 401.95,68.14 403.63,68.26 405.32,68.38 407.01,68.52 408.72,68.66 410.44,68.81 412.16,68.97 413.9,69.14 415.65,69.32 417.4,69.5 417.4,70.5 417.35,70.62 417.25,70.86 417.12,71.18 416.96,71.57 416.77,72.02 416.55,72.52 416.31,73.07 416.05,73.65 415.77,74.27 415.48,74.92 415.16,75.6 414.82,76.3 414.47,77.02 414.1,77.75 413.72,78.5 413.32,79.26 412.9,80.02 412.47,80.8 412.02,81.57 411.57,82.35 411.09,83.12 410.6,83.9 410.1,84.67 409.59,85.43 409.06,86.19 408.52,86.94 407.97,87.68 407.4,88.41 406.83,89.12 406.24,89.83 405.64,90.52 405.02,91.2 404.4,91.86 403.76,92.51 403.11,93.14 402.46,93.76 401.79,94.37 401.11,94.95 400.41,95.52 399.71,96.08 399,96.61 398.28,97.13 397.54,97.64 396.8,98.13 396.04,98.6 395.28,99.06 394.5,99.5 393.72,99.92 392.93,100.33 392.12,100.73 391.31,101.11 390.49,101.48 389.65,101.83 388.81,102.17 387.96,102.5 387.1,102.81 386.23,103.11 385.35,103.4 384.46,103.68 383.56,103.95 382.65,104.2 381.74,104.45 380.81,104.69 379.88,104.91 378.94,105.13 377.99,105.34 377.03,105.54 376.06,105.73 375.08,105.92 374.09,106.09 373.1,106.26 372.1,106.43 371.09,106.59 370.07,106.74 369.04,106.88 368,107.02 366.96,107.16 365.91,107.29 364.85,107.42 363.78,107.54 362.7,107.66 361.62,107.77 360.53,107.88 359.43,107.99 358.32,108.09 357.2,108.19 356.08,108.29 354.95,108.39 353.81,108.48 352.66,108.57 351.5,108.66 350.34,108.75 349.17,108.83 347.99,108.92 346.81,109 345.62,109.08 344.42,109.16 343.21,109.24 341.99,109.32 340.77,109.39 339.54,109.47 338.31,109.54 337.06,109.62 335.81,109.69 334.55,109.76 333.28,109.84 332.01,109.91 330.73,109.98 329.44,110.05 328.15,110.12 326.85,110.19 325.54,110.26 324.22,110.33 322.9,110.4 321.57,110.47 320.23,110.54 318.89,110.61 317.54,110.68 316.18,110.75 314.82,110.82 313.45,110.89 312.07,110.96 310.68,111.03 309.29,111.1 307.89,111.17 306.49,111.24 305.08,111.31 303.66,111.38 302.23,111.45 300.8,111.52 299.36,111.6 297.92,111.67 296.47,111.74 295.01,111.81 293.54,111.88 292.07,111.96 290.59,112.03 289.11,112.1 287.62,112.17 286.12,112.25 284.62,112.32 283.11,112.4 281.59,112.47 280.07,112.54 278.54,112.62 277,112.69 275.46,112.77 273.91,112.85 272.36,112.92 270.8,113" fill="none" stroke="#2a2aa0" stroke-width="1.25" stroke-linejoin="round" stroke-linecap="round" />
<polyline points="270.8,119.5 270.82,119.32 270.86,118.87 270.93,118.21 271.02,117.36 271.12,116.33 271.25,115.16 271.39,113.86 271.55,112.45 271.73,110.95 271.92,109.38 272.13,107.74 272.35,106.06 272.6,104.36 272.85,102.64 273.12,100.92 273.41,99.2 273.71,97.51 274.03,95.85 274.36,94.23 274.7,92.65 275.06,91.12 275.43,89.64 275.82,88.23 276.21,86.87 276.63,85.58 277.05,84.34 277.49,83.17 277.95,82.07 278.41,81.02 278.89,80.04 279.38,79.11 279.89,78.24 280.4,77.42 280.94,76.65 281.48,75.93 282.03,75.25 282.6,74.62 283.18,74.02 283.77,73.47 284.38,72.94 285,72.45 285.63,71.99 286.27,71.55 286.92,71.14 287.59,70.75 288.26,70.39 288.95,70.04 289.65,69.71 290.37,69.39 291.09,69.09 291.83,68.81 292.58,68.53 293.34,68.27 294.11,68.02 294.89,67.78 295.68,67.55 296.49,67.32 297.31,67.11 298.13,66.9 298.97,66.71 299.82,66.51 300.69,66.33 301.56,66.15 302.44,65.98 303.34,65.81 304.25,65.65 305.16,65.5 306.09,65.35 307.03,65.2 307.98,65.06 308.94,64.92 309.92,64.79 310.9,64.66 311.89,64.54 312.9,64.42 313.92,64.31 314.94,64.2 315.98,64.09 317.03,63.98 318.09,63.88 319.16,63.78 320.24,63.69 321.33,63.6 322.43,63.51 323.54,63.42 324.66,63.34 325.79,63.25 326.94,63.17 328.09,63.1 329.25,63.02 330.43,62.95 331.61,62.88 332.81,62.81 334.01,62.74 335.23,62.67 336.45,62.61 337.69,62.54 338.94,62.48 340.19,62.42 341.46,62.36 342.74,62.3 344.02,62.24 345.32,62.19 346.63,62.13 347.95,62.07 349.27,62.02 350.61,61.97 351.96,61.91 353.32,61.86 354.68,61.81 356.06,61.76 357.45,61.7 358.85,61.65 360.25,61.6 361.67,61.55 363.1,61.5 364.54,61.45 365.98,61.4 367.44,61.35 368.91,61.3 370.38,61.26 371.87,61.21 373.36,61.16 374.87,61.11 376.39,61.1 377.91,61.11 379.45,61.12 380.99,61.14 382.55,61.17 384.11,61.2 385.68,61.24 387.27,61.29 388.86,61.34 390.46,61.4 392.07,61.47 393.7,61.55 395.33,61.64 396.97,61.73 398.62,61.83 400.28,61.94 401.95,62.06 403.63,62.18 405.32,62.32 407.01,62.46 408.72,62.61 410.44,62.77 412.16,62.94 413.9,63.12 415.65,63.31 417.4,63.5 417.4,70.5 417.35,70.62 417.25,70.86 417.12,71.18 416.96,71.58 416.77,72.03 416.55,72.54 416.31,73.09 416.05,73.69 415.77,74.32 415.48,74.98 415.16,75.67 414.82,76.39 414.47,77.13 414.1,77.88 413.72,78.66 413.32,79.44 412.9,80.24 412.47,81.04 412.02,81.86 411.57,82.67 411.09,83.49 410.6,84.31 410.1,85.13 409.59,85.94 409.06,86.76 408.52,87.56 407.97,88.36 407.4,89.15 406.83,89.93 406.24,90.71 405.64,91.47 405.02,92.22 404.4,92.96 403.76,93.68 403.11,94.39 402.46,95.09 401.79,95.77 401.11,96.44 400.41,97.1 399.71,97.73 399,98.36 398.28,98.96 397.54,99.55 396.8,100.13 396.04,100.69 395.28,101.23 394.5,101.76 393.72,102.27 392.93,102.77 392.12,103.25 391.31,103.72 390.49,104.17 389.65,104.61 388.81,105.04 387.96,105.45 387.1,105.84 386.23,106.23 385.35,106.6 384.46,106.95 383.56,107.3 382.65,107.63 381.74,107.95 380.81,108.26 379.88,108.56 378.94,108.85 377.99,109.13 377.03,109.4 376.06,109.66 375.08,109.91 374.09,110.15 373.1,110.38 372.1,110.61 371.09,110.83 370.07,111.04 369.04,111.24 368,111.43 366.96,111.62 365.91,111.81 364.85,111.98 363.78,112.16 362.7,112.32 361.62,112.48 360.53,112.64 359.43,112.79 358.32,112.94 357.2,113.08 356.08,113.22 354.95,113.36 353.81,113.49 352.66,113.62 351.5,113.74 350.34,113.87 349.17,113.99 347.99,114.11 346.81,114.22 345.62,114.34 344.42,114.45 343.21,114.56 341.99,114.66 340.77,114.77 339.54,114.88 338.31,114.98 337.06,115.08 335.81,115.18 334.55,115.28 333.28,115.38 332.01,115.48 330.73,115.57 329.44,115.67 328.15,115.76 326.85,115.86 325.54,115.95 324.22,116.05 322.9,116.14 321.57,116.23 320.23,116.32 318.89,116.42 317.54,116.51 316.18,116.6 314.82,116.69 313.45,116.78 312.07,116.88 310.68,116.97 309.29,117.06 307.89,117.15 306.49,117.24 305.08,117.33 303.66,117.42 302.23,117.52 300.8,117.61 299.36,117.7 297.92,117.79 296.47,117.88 295.01,117.98 293.54,118.07 292.07,118.16 290.59,118.26 289.11,118.35 287.62,118.44 286.12,118.54 284.62,118.63 283.11,118.73 281.59,118.82 280.07,118.92 278.54,119.01 277,119.11 275.46,119.2 273.91,119.3 272.36,119.4 270.8,119.49" fill="none" stroke="#9a22ee" stroke-width="1.25" stroke-linejoin="round" stroke-linecap="round" />
<polyline points="270.8,132.8 270.82,132.56 270.86,131.98 270.93,131.11 271.02,129.98 271.12,128.63 271.25,127.08 271.39,125.36 271.55,123.48 271.73,121.47 271.92,119.36 272.13,117.15 272.35,114.88 272.6,112.56 272.85,110.21 273.12,107.84 273.41,105.47 273.71,103.12 274.03,100.79 274.36,98.5 274.7,96.26 275.06,94.08 275.43,91.95 275.82,89.9 276.21,87.92 276.63,86.02 277.05,84.2 277.49,82.46 277.95,80.8 278.41,79.22 278.89,77.73 279.38,76.31 279.89,74.97 280.4,73.71 280.94,72.51 281.48,71.39 282.03,70.33 282.6,69.33 283.18,68.4 283.77,67.52 284.38,66.69 285,65.91 285.63,65.17 286.27,64.48 286.92,63.83 287.59,63.21 288.26,62.63 288.95,62.08 289.65,61.56 290.37,61.06 291.09,60.59 291.83,60.15 292.58,59.72 293.34,59.31 294.11,58.92 294.89,58.55 295.68,58.19 296.49,57.85 297.31,57.52 298.13,57.21 298.97,56.9 299.82,56.61 300.69,56.33 301.56,56.05 302.44,55.79 303.34,55.54 304.25,55.29 305.16,55.06 306.09,54.83 307.03,54.61 307.98,54.4 308.94,54.19 309.92,53.99 310.9,53.8 311.89,53.61 312.9,53.43 313.92,53.26 314.94,53.09 315.98,52.93 317.03,52.77 318.09,52.62 319.16,52.47 320.24,52.33 321.33,52.19 322.43,52.06 323.54,51.93 324.66,51.8 325.79,51.68 326.94,51.57 328.09,51.45 329.25,51.34 330.43,51.24 331.61,51.13 332.81,51.04 334.01,50.94 335.23,50.84 336.45,50.75 337.69,50.67 338.94,50.58 340.19,50.5 341.46,50.41 342.74,50.33 344.02,50.26 345.32,50.18 346.63,50.11 347.95,50.04 349.27,49.97 350.61,49.9 351.96,49.83 353.32,49.76 354.68,49.7 356.06,49.63 357.45,49.57 358.85,49.51 360.25,49.45 361.67,49.39 363.1,49.33 364.54,49.27 365.98,49.21 367.44,49.16 368.91,49.1 370.38,49.05 371.87,48.99 373.36,48.93 374.87,48.88 376.39,48.87 377.91,48.87 379.45,48.89 380.99,48.91 382.55,48.94 384.11,48.98 385.68,49.03 387.27,49.09 388.86,49.16 390.46,49.24 392.07,49.33 393.7,49.43 395.33,49.55 396.97,49.67 398.62,49.8 400.28,49.94 401.95,50.1 403.63,50.26 405.32,50.44 407.01,50.63 408.72,50.83 410.44,51.04 412.16,51.27 413.9,51.5 415.65,51.75 417.4,52.01 417.4,70.5 417.35,70.62 417.25,70.86 417.12,71.19 416.96,71.59 416.77,72.05 416.55,72.57 416.31,73.14 416.05,73.74 415.77,74.39 415.48,75.07 415.16,75.79 414.82,76.53 414.47,77.3 414.1,78.1 413.72,78.91 413.32,79.74 412.9,80.59 412.47,81.45 412.02,82.32 411.57,83.2 411.09,84.09 410.6,84.99 410.1,85.89 409.59,86.79 409.06,87.69 408.52,88.59 407.97,89.5 407.4,90.39 406.83,91.29 406.24,92.18 405.64,93.06 405.02,93.94 404.4,94.8 403.76,95.66 403.11,96.51 402.46,97.35 401.79,98.18 401.11,98.99 400.41,99.8 399.71,100.59 399,101.37 398.28,102.14 397.54,102.89 396.8,103.63 396.04,104.35 395.28,105.06 394.5,105.76 393.72,106.44 392.93,107.1 392.12,107.76 391.31,108.39 390.49,109.02 389.65,109.62 388.81,110.22 387.96,110.8 387.1,111.36 386.23,111.91 385.35,112.45 384.46,112.97 383.56,113.48 382.65,113.98 381.74,114.46 380.81,114.93 379.88,115.38 378.94,115.83 377.99,116.26 377.03,116.68 376.06,117.09 375.08,117.49 374.09,117.87 373.1,118.25 372.1,118.61 371.09,118.96 370.07,119.31 369.04,119.64 368,119.97 366.96,120.28 365.91,120.59 364.85,120.89 363.78,121.18 362.7,121.46 361.62,121.73 360.53,122 359.43,122.26 358.32,122.51 357.2,122.76 356.08,123 354.95,123.24 353.81,123.46 352.66,123.69 351.5,123.9 350.34,124.12 349.17,124.32 347.99,124.53 346.81,124.73 345.62,124.92 344.42,125.11 343.21,125.3 341.99,125.48 340.77,125.66 339.54,125.83 338.31,126.01 337.06,126.17 335.81,126.34 334.55,126.51 333.28,126.67 332.01,126.83 330.73,126.98 329.44,127.14 328.15,127.29 326.85,127.44 325.54,127.59 324.22,127.74 322.9,127.89 321.57,128.03 320.23,128.17 318.89,128.32 317.54,128.46 316.18,128.6 314.82,128.74 313.45,128.88 312.07,129.01 310.68,129.15 309.29,129.29 307.89,129.42 306.49,129.56 305.08,129.69 303.66,129.83 302.23,129.96 300.8,130.09 299.36,130.23 297.92,130.36 296.47,130.49 295.01,130.62 293.54,130.76 292.07,130.89 290.59,131.02 289.11,131.16 287.62,131.29 286.12,131.42 284.62,131.55 283.11,131.69 281.59,131.82 280.07,131.95 278.54,132.09 277,132.22 275.46,132.35 273.91,132.49 272.36,132.62 270.8,132.76" fill="none" stroke="#a020a8" stroke-width="1.25" stroke-linejoin="round" stroke-linecap="round" />
<polyline points="270.8,146.5 270.82,146.26 270.86,145.65 270.93,144.75 271.02,143.58 271.12,142.17 271.25,140.55 271.39,138.73 271.55,136.73 271.73,134.59 271.92,132.3 272.13,129.91 272.35,127.41 272.6,124.84 272.85,122.21 273.12,119.53 273.41,116.82 273.71,114.09 274.03,111.36 274.36,108.64 274.7,105.94 275.06,103.27 275.43,100.65 275.82,98.07 276.21,95.55 276.63,93.1 277.05,90.71 277.49,88.39 277.95,86.16 278.41,83.99 278.89,81.91 279.38,79.92 279.89,78 280.4,76.17 280.94,74.41 281.48,72.74 282.03,71.14 282.6,69.63 283.18,68.18 283.77,66.81 284.38,65.51 285,64.28 285.63,63.11 286.27,61.99 286.92,60.94 287.59,59.94 288.26,59 288.95,58.1 289.65,57.25 290.37,56.44 291.09,55.67 291.83,54.94 292.58,54.25 293.34,53.59 294.11,52.96 294.89,52.35 295.68,51.78 296.49,51.23 297.31,50.7 298.13,50.2 298.97,49.72 299.82,49.25 300.69,48.81 301.56,48.38 302.44,47.96 303.34,47.57 304.25,47.18 305.16,46.81 306.09,46.45 307.03,46.1 307.98,45.77 308.94,45.44 309.92,45.13 310.9,44.82 311.89,44.53 312.9,44.24 313.92,43.96 314.94,43.69 315.98,43.43 317.03,43.18 318.09,42.93 319.16,42.69 320.24,42.46 321.33,42.23 322.43,42.01 323.54,41.8 324.66,41.59 325.79,41.39 326.94,41.2 328.09,41.01 329.25,40.82 330.43,40.65 331.61,40.47 332.81,40.31 334.01,40.14 335.23,39.98 336.45,39.83 337.69,39.68 338.94,39.54 340.19,39.39 341.46,39.26 342.74,39.12 344.02,39 345.32,38.87 346.63,38.75 347.95,38.63 349.27,38.51 350.61,38.4 351.96,38.29 353.32,38.18 354.68,38.08 356.06,37.98 357.45,37.88 358.85,37.78 360.25,37.69 361.67,37.6 363.1,37.51 364.54,37.42 365.98,37.33 367.44,37.25 368.91,37.17 370.38,37.09 371.87,37.01 373.36,36.93 374.87,36.85 376.39,36.82 377.91,36.81 379.45,36.82 380.99,36.83 382.55,36.86 384.11,36.91 385.68,36.97 387.27,37.04 388.86,37.13 390.46,37.24 392.07,37.35 393.7,37.49 395.33,37.64 396.97,37.8 398.62,37.99 400.28,38.18 401.95,38.4 403.63,38.63 405.32,38.87 407.01,39.14 408.72,39.42 410.44,39.72 412.16,40.03 413.9,40.37 415.65,40.72 417.4,41.09 417.4,70.5 417.35,70.62 417.25,70.87 417.12,71.2 416.96,71.61 416.77,72.08 416.55,72.61 416.31,73.19 416.05,73.81 415.77,74.47 415.48,75.18 415.16,75.91 414.82,76.68 414.47,77.48 414.1,78.3 413.72,79.15 413.32,80.02 412.9,80.9 412.47,81.81 412.02,82.73 411.57,83.66 411.09,84.6 410.6,85.55 410.1,86.51 409.59,87.48 409.06,88.45 408.52,89.42 407.97,90.4 407.4,91.38 406.83,92.35 406.24,93.33 405.64,94.3 405.02,95.27 404.4,96.23 403.76,97.19 403.11,98.14 402.46,99.08 401.79,100.02 401.11,100.95 400.41,101.87 399.71,102.77 399,103.67 398.28,104.56 397.54,105.44 396.8,106.3 396.04,107.15 395.28,107.99 394.5,108.82 393.72,109.64 392.93,110.44 392.12,111.23 391.31,112 390.49,112.76 389.65,113.51 388.81,114.24 387.96,114.96 387.1,115.67 386.23,116.36 385.35,117.04 384.46,117.7 383.56,118.36 382.65,118.99 381.74,119.62 380.81,120.23 379.88,120.83 378.94,121.41 377.99,121.99 377.03,122.55 376.06,123.09 375.08,123.63 374.09,124.15 373.1,124.66 372.1,125.16 371.09,125.65 370.07,126.13 369.04,126.6 368,127.05 366.96,127.5 365.91,127.93 364.85,128.36 363.78,128.78 362.7,129.18 361.62,129.58 360.53,129.97 359.43,130.35 358.32,130.72 357.2,131.09 356.08,131.44 354.95,131.79 353.81,132.13 352.66,132.47 351.5,132.8 350.34,133.12 349.17,133.43 347.99,133.74 346.81,134.04 345.62,134.34 344.42,134.63 343.21,134.92 341.99,135.2 340.77,135.47 339.54,135.75 338.31,136.01 337.06,136.28 335.81,136.54 334.55,136.79 333.28,137.04 332.01,137.29 330.73,137.54 329.44,137.78 328.15,138.02 326.85,138.25 325.54,138.48 324.22,138.71 322.9,138.94 321.57,139.17 320.23,139.39 318.89,139.61 317.54,139.83 316.18,140.05 314.82,140.26 313.45,140.48 312.07,140.69 310.68,140.9 309.29,141.11 307.89,141.32 306.49,141.53 305.08,141.74 303.66,141.94 302.23,142.15 300.8,142.35 299.36,142.55 297.92,142.76 296.47,142.96 295.01,143.16 293.54,143.36 292.07,143.56 290.59,143.76 289.11,143.96 287.62,144.17 286.12,144.37 284.62,144.57 283.11,144.76 281.59,144.96 280.07,145.16 278.54,145.36 277,145.56 275.46,145.76 273.91,145.96 272.36,146.16 270.8,146.37" fill="none" stroke="#a81a1a" stroke-width="1.25" stroke-linejoin="round" stroke-linecap="round" />
<rect x="254.1" y="17.9" width="179.7" height="138.4" fill="none" stroke="#1a1a1a" stroke-width="1.3"/>
<line x1="251.3" y1="17.88" x2="254.1" y2="17.88" stroke="#1a1a1a" stroke-width="1.2" />
<text x="250.3" y="20.23" font-size="6.6" font-weight="bold" text-anchor="end" fill="#000" stroke="#000" stroke-width="0.22" font-family='"Liberation Sans", sans-serif' >6.0m</text>
<line x1="251.3" y1="52.44" x2="254.1" y2="52.44" stroke="#1a1a1a" stroke-width="1.2" />
<text x="250.3" y="54.79" font-size="6.6" font-weight="bold" text-anchor="end" fill="#000" stroke="#000" stroke-width="0.22" font-family='"Liberation Sans", sans-serif' >3.0m</text>
<line x1="251.3" y1="87" x2="254.1" y2="87" stroke="#1a1a1a" stroke-width="1.2" />
<text x="250.3" y="89.35" font-size="6.6" font-weight="bold" text-anchor="end" fill="#000" stroke="#000" stroke-width="0.22" font-family='"Liberation Sans", sans-serif' >0.0</text>
<line x1="251.3" y1="121.56" x2="254.1" y2="121.56" stroke="#1a1a1a" stroke-width="1.2" />
<text x="250.3" y="123.91" font-size="6.6" font-weight="bold" text-anchor="end" fill="#000" stroke="#000" stroke-width="0.22" font-family='"Liberation Sans", sans-serif' >-3.0m</text>
<line x1="251.3" y1="156.12" x2="254.1" y2="156.12" stroke="#1a1a1a" stroke-width="1.2" />
<text x="250.3" y="158.47" font-size="6.6" font-weight="bold" text-anchor="end" fill="#000" stroke="#000" stroke-width="0.22" font-family='"Liberation Sans", sans-serif' >-6.0m</text>
<line x1="252.42" y1="35.16" x2="254.1" y2="35.16" stroke="#1a1a1a" stroke-width="1" />
<line x1="252.42" y1="69.72" x2="254.1" y2="69.72" stroke="#1a1a1a" stroke-width="1" />
<line x1="252.42" y1="104.28" x2="254.1" y2="104.28" stroke="#1a1a1a" stroke-width="1" />
<line x1="252.42" y1="138.84" x2="254.1" y2="138.84" stroke="#1a1a1a" stroke-width="1" />
<line x1="269.7" y1="156.3" x2="269.7" y2="159.1" stroke="#1a1a1a" stroke-width="1.2" />
<text x="269.7" y="166.1" font-size="6.6" font-weight="bold" text-anchor="middle" fill="#000" stroke="#000" stroke-width="0.22" font-family='"Liberation Sans", sans-serif' >-1.0</text>
<line x1="344.15" y1="156.3" x2="344.15" y2="159.1" stroke="#1a1a1a" stroke-width="1.2" />
<text x="344.15" y="166.1" font-size="6.6" font-weight="bold" text-anchor="middle" fill="#000" stroke="#000" stroke-width="0.22" font-family='"Liberation Sans", sans-serif' >-0.5</text>
<line x1="418.6" y1="156.3" x2="418.6" y2="159.1" stroke="#1a1a1a" stroke-width="1.2" />
<text x="418.6" y="166.1" font-size="6.6" font-weight="bold" text-anchor="middle" fill="#000" stroke="#000" stroke-width="0.22" font-family='"Liberation Sans", sans-serif' >0.0</text>
<line x1="306.93" y1="156.3" x2="306.93" y2="157.98" stroke="#1a1a1a" stroke-width="1" />
<line x1="381.38" y1="156.3" x2="381.38" y2="157.98" stroke="#1a1a1a" stroke-width="1" />
<text x="344.2" y="176.7" font-size="7.8" font-weight="bold" text-anchor="middle" fill="#000" stroke="#000" stroke-width="0.22" font-family='"Liberation Sans", sans-serif' >Potential (V vs Ag/AgCl)</text>
<text transform="translate(231.8,88.7) rotate(-90)" font-size="8.25" font-weight="bold" text-anchor="middle" fill="#000" stroke="#000" stroke-width="0.22" font-family='"Liberation Sans", sans-serif'>Current (A)</text>
<text x="403.4" y="135.9" font-size="6.6" font-weight="bold" text-anchor="start" fill="#000" stroke="#000" stroke-width="0.22" font-family='"Liberation Sans", sans-serif' >5 mV/s</text>
<line x1="412.9" y1="139.2" x2="412.9" y2="150.5" stroke="#444" stroke-width="0.7" />
<path d="M411.8,145.2 L412.9,148.4 L414.0,145.2 Z" fill="#333"/>
<text x="403.4" y="153" font-size="6.6" font-weight="bold" text-anchor="start" fill="#000" stroke="#000" stroke-width="0.22" font-family='"Liberation Sans", sans-serif' >200 mV/s</text>
<defs>
<radialGradient id="gk" cx="0.5" cy="0.5" r="0.5" fx="0.32" fy="0.28"><stop offset="0" stop-color="#d8d8d8"/><stop offset="0.18" stop-color="#707070"/><stop offset="0.38" stop-color="#151515"/><stop offset="1" stop-color="#000"/></radialGradient>
<radialGradient id="gr" cx="0.5" cy="0.5" r="0.5" fx="0.32" fy="0.28"><stop offset="0" stop-color="#ffd8d8"/><stop offset="0.18" stop-color="#ff5050"/><stop offset="0.4" stop-color="#ff0000"/><stop offset="1" stop-color="#ee0000"/></radialGradient>
</defs>
<text x="36.8" y="196.2" font-size="11.2" font-weight="normal" text-anchor="start" fill="#000" stroke="#000" stroke-width="0.22" font-family='"Liberation Sans", sans-serif' >(c)</text>
<polyline points="38.8,205.7 43.2,215.4 47.5,224.3 51.7,230.3 56.1,233.2 68.9,239.1 77.2,242.1 119.7,250.6 163.3,254 205.8,258" fill="none" stroke="#111" stroke-width="1.25" stroke-linejoin="round" stroke-linecap="round" />
<polyline points="38.9,280 43.2,282.9 47.4,284.2 51.8,285.7 56,287 60.6,288.8 68.8,291.6 77,293.4 98.5,297.4 119.7,300.5 162.6,303.7 205.3,306.6" fill="none" stroke="#ff0000" stroke-width="1.25" stroke-linejoin="round" stroke-linecap="round" />
<circle cx="38.8" cy="205.7" r="2.2" fill="url(#gk)"/>
<circle cx="43.2" cy="215.4" r="2.2" fill="url(#gk)"/>
<circle cx="47.5" cy="224.3" r="2.2" fill="url(#gk)"/>
<circle cx="51.7" cy="230.3" r="2.2" fill="url(#gk)"/>
<circle cx="56.1" cy="233.2" r="2.2" fill="url(#gk)"/>
<circle cx="68.9" cy="239.1" r="2.2" fill="url(#gk)"/>
<circle cx="77.2" cy="242.1" r="2.2" fill="url(#gk)"/>
<circle cx="119.7" cy="250.6" r="2.2" fill="url(#gk)"/>
<circle cx="163.3" cy="254" r="2.2" fill="url(#gk)"/>
<circle cx="205.8" cy="258" r="2.2" fill="url(#gk)"/>
<circle cx="38.9" cy="280" r="2.25" fill="url(#gr)"/>
<circle cx="43.2" cy="282.9" r="2.25" fill="url(#gr)"/>
<circle cx="47.4" cy="284.2" r="2.25" fill="url(#gr)"/>
<circle cx="51.8" cy="285.7" r="2.25" fill="url(#gr)"/>
<circle cx="56" cy="287" r="2.25" fill="url(#gr)"/>
<circle cx="60.6" cy="288.8" r="2.25" fill="url(#gr)"/>
<circle cx="68.8" cy="291.6" r="2.25" fill="url(#gr)"/>
<circle cx="77" cy="293.4" r="2.25" fill="url(#gr)"/>
<circle cx="98.5" cy="297.4" r="2.25" fill="url(#gr)"/>
<circle cx="119.7" cy="300.5" r="2.25" fill="url(#gr)"/>
<circle cx="162.6" cy="303.7" r="2.25" fill="url(#gr)"/>
<circle cx="205.3" cy="306.6" r="2.25" fill="url(#gr)"/>
<text x="116.6" y="242.8" font-size="6.7" font-weight="bold" text-anchor="start" fill="#111" stroke="#111" stroke-width="0.22" font-family='"Liberation Sans", sans-serif' >TPE-CPOP1-800</text>
<text x="113" y="294.8" font-size="6.7" font-weight="bold" text-anchor="start" fill="#ff0000" stroke="#ff0000" stroke-width="0.22" font-family='"Liberation Sans", sans-serif' >TPE-CPOP2-800</text>
<rect x="34.7" y="201.1" width="179.7" height="138.1" fill="none" stroke="#1a1a1a" stroke-width="1.3"/>
<line x1="31.9" y1="206.31" x2="34.7" y2="206.31" stroke="#1a1a1a" stroke-width="1.2" />
<text x="30.9" y="208.66" font-size="6.6" font-weight="bold" text-anchor="end" fill="#000" stroke="#000" stroke-width="0.22" font-family='"Liberation Sans", sans-serif' >450</text>
<line x1="31.9" y1="232.89" x2="34.7" y2="232.89" stroke="#1a1a1a" stroke-width="1.2" />
<text x="30.9" y="235.24" font-size="6.6" font-weight="bold" text-anchor="end" fill="#000" stroke="#000" stroke-width="0.22" font-family='"Liberation Sans", sans-serif' >360</text>
<line x1="31.9" y1="259.47" x2="34.7" y2="259.47" stroke="#1a1a1a" stroke-width="1.2" />
<text x="30.9" y="261.82" font-size="6.6" font-weight="bold" text-anchor="end" fill="#000" stroke="#000" stroke-width="0.22" font-family='"Liberation Sans", sans-serif' >270</text>
<line x1="31.9" y1="286.05" x2="34.7" y2="286.05" stroke="#1a1a1a" stroke-width="1.2" />
<text x="30.9" y="288.4" font-size="6.6" font-weight="bold" text-anchor="end" fill="#000" stroke="#000" stroke-width="0.22" font-family='"Liberation Sans", sans-serif' >180</text>
<line x1="31.9" y1="312.62" x2="34.7" y2="312.62" stroke="#1a1a1a" stroke-width="1.2" />
<text x="30.9" y="314.97" font-size="6.6" font-weight="bold" text-anchor="end" fill="#000" stroke="#000" stroke-width="0.22" font-family='"Liberation Sans", sans-serif' >90</text>
<line x1="31.9" y1="339.2" x2="34.7" y2="339.2" stroke="#1a1a1a" stroke-width="1.2" />
<text x="30.9" y="341.55" font-size="6.6" font-weight="bold" text-anchor="end" fill="#000" stroke="#000" stroke-width="0.22" font-family='"Liberation Sans", sans-serif' >0</text>
<line x1="33.02" y1="219.6" x2="34.7" y2="219.6" stroke="#1a1a1a" stroke-width="1" />
<line x1="33.02" y1="246.18" x2="34.7" y2="246.18" stroke="#1a1a1a" stroke-width="1" />
<line x1="33.02" y1="272.76" x2="34.7" y2="272.76" stroke="#1a1a1a" stroke-width="1" />
<line x1="33.02" y1="299.33" x2="34.7" y2="299.33" stroke="#1a1a1a" stroke-width="1" />
<line x1="33.02" y1="325.91" x2="34.7" y2="325.91" stroke="#1a1a1a" stroke-width="1" />
<line x1="34.5" y1="339.2" x2="34.5" y2="342" stroke="#1a1a1a" stroke-width="1.2" />
<text x="34.5" y="349" font-size="6.6" font-weight="bold" text-anchor="middle" fill="#000" stroke="#000" stroke-width="0.22" font-family='"Liberation Sans", sans-serif' >0</text>
<line x1="77.35" y1="339.2" x2="77.35" y2="342" stroke="#1a1a1a" stroke-width="1.2" />
<text x="77.35" y="349" font-size="6.6" font-weight="bold" text-anchor="middle" fill="#000" stroke="#000" stroke-width="0.22" font-family='"Liberation Sans", sans-serif' >50</text>
<line x1="120.2" y1="339.2" x2="120.2" y2="342" stroke="#1a1a1a" stroke-width="1.2" />
<text x="120.2" y="349" font-size="6.6" font-weight="bold" text-anchor="middle" fill="#000" stroke="#000" stroke-width="0.22" font-family='"Liberation Sans", sans-serif' >100</text>
<line x1="163.05" y1="339.2" x2="163.05" y2="342" stroke="#1a1a1a" stroke-width="1.2" />
<text x="163.05" y="349" font-size="6.6" font-weight="bold" text-anchor="middle" fill="#000" stroke="#000" stroke-width="0.22" font-family='"Liberation Sans", sans-serif' >150</text>
<line x1="205.9" y1="339.2" x2="205.9" y2="342" stroke="#1a1a1a" stroke-width="1.2" />
<text x="205.9" y="349" font-size="6.6" font-weight="bold" text-anchor="middle" fill="#000" stroke="#000" stroke-width="0.22" font-family='"Liberation Sans", sans-serif' >200</text>
<line x1="55.92" y1="339.2" x2="55.92" y2="340.88" stroke="#1a1a1a" stroke-width="1" />
<line x1="98.78" y1="339.2" x2="98.78" y2="340.88" stroke="#1a1a1a" stroke-width="1" />
<line x1="141.62" y1="339.2" x2="141.62" y2="340.88" stroke="#1a1a1a" stroke-width="1" />
<line x1="184.47" y1="339.2" x2="184.47" y2="340.88" stroke="#1a1a1a" stroke-width="1" />
<text x="124.2" y="357.6" font-size="7.8" font-weight="bold" text-anchor="middle" fill="#000" stroke="#000" stroke-width="0.22" font-family='"Liberation Sans", sans-serif' >Scan rate (mV/s)</text>
<text transform="translate(11.0,276.1) rotate(-90)" font-size="8.25" font-weight="bold" text-anchor="middle" stroke="#000" stroke-width="0.22" font-family='"Liberation Sans", sans-serif'>Capacitance (F g<tspan dy="-3.3" dx="0.3" font-size="4.8">-1</tspan><tspan dy="3.3" dx="0.3">)</tspan></text>
<text x="257" y="196" font-size="11.2" font-weight="normal" text-anchor="start" fill="#000" stroke="#000" stroke-width="0.22" font-family='"Liberation Sans", sans-serif' >(d)</text>
<polyline points="254,338.4 254.86,335.46 255.71,332.84 256.57,330.47 257.42,328.27 258.28,326.21 259.13,324.26 259.99,322.38 260.84,320.57 261.7,318.8 262.55,317.06 263.41,315.36 264.26,313.67 265.12,311.99 265.97,310.33 266.83,308.68 267.68,307.03 268.54,305.39 269.39,303.75 270.25,302.12 271.1,300.49 271.96,298.86 272.81,297.23 273.67,295.6 274.52,293.98 275.38,292.35 276.23,290.73 277.09,289.11 277.94,287.49 278.8,285.87 279.65,284.25 280.51,282.64 281.36,281.03 282.22,279.41 283.07,277.81 283.93,276.2 284.78,274.59 285.64,272.99 286.49,271.39 287.35,269.8 288.2,268.2 289.06,266.62 289.91,265.03 290.77,263.45 291.62,261.87 292.48,260.3 293.34,258.74 294.19,257.18 295.05,255.62 295.9,254.07 296.76,252.53 297.61,251 298.47,249.47 299.32,247.95 300.18,246.44 301.03,244.94 301.89,243.45 302.74,241.97 303.6,240.5 304.45,239.04 305.31,237.59 306.16,236.15 307.02,234.73 307.87,233.32 308.73,231.92 309.58,230.54 310.44,229.18 311.29,227.83 312.15,226.5 313,225.19 313.86,223.89 314.71,222.62 315.57,221.36 316.42,220.13 317.28,218.92 318.13,217.73 318.99,216.57 319.84,215.43 320.7,214.32 321.55,213.23 322.41,212.17 323.26,211.15 324.12,210.15 324.97,209.18 325.83,208.25 326.68,207.35 327.54,206.48 328.39,205.65 329.25,204.86 330.1,204.11 330.96,203.4 331.06,204.47 331.25,206.26 331.49,208.28 331.78,210.33 332.1,212.32 332.46,214.21 332.85,215.99 333.27,217.69 333.71,219.33 334.18,220.94 334.68,222.52 335.2,224.12 335.74,225.72 336.3,227.35 336.88,229 337.49,230.67 338.11,232.38 338.75,234.1 339.4,235.85 340.08,237.63 340.77,239.42 341.48,241.22 342.21,243.04 342.95,244.88 343.71,246.72 344.48,248.57 345.27,250.43 346.07,252.29 346.88,254.15 347.71,256.01 348.56,257.87 349.42,259.73 350.29,261.59 351.18,263.43 352.07,265.28 352.98,267.11 353.91,268.94 354.85,270.75 355.79,272.55 356.76,274.34 357.73,276.12 358.71,277.88 359.71,279.63 360.72,281.36 361.74,283.08 362.77,284.77 363.82,286.45 364.87,288.12 365.93,289.76 367.01,291.38 368.1,292.99 369.2,294.57 370.3,296.13 371.42,297.67 372.55,299.19 373.69,300.69 374.84,302.17 376,303.62 377.17,305.05 378.35,306.46 379.54,307.85 380.74,309.21 381.95,310.55 383.17,311.87 384.4,313.17 385.63,314.44 386.88,315.69 388.14,316.92 389.4,318.12 390.68,319.3 391.96,320.46 393.26,321.6 394.56,322.71 395.87,323.8 397.19,324.87 398.52,325.92 399.86,326.95 401.2,327.95 402.56,328.93 403.92,329.89 405.29,330.84 406.67,331.76 408.06,332.66 409.46,333.53 410.87,334.39 412.28,335.23 413.7,336.05 415.14,336.85 416.57,337.64 418.02,338.4" fill="none" stroke="#111111" stroke-width="1.3" stroke-linejoin="round" stroke-linecap="round" />
<polyline points="254,338.4 254.56,335.46 255.12,332.84 255.68,330.47 256.24,328.27 256.81,326.21 257.37,324.26 257.93,322.38 258.49,320.57 259.05,318.8 259.61,317.06 260.17,315.36 260.73,313.67 261.3,311.99 261.86,310.33 262.42,308.68 262.98,307.03 263.54,305.39 264.1,303.75 264.66,302.12 265.22,300.49 265.78,298.86 266.35,297.23 266.91,295.6 267.47,293.98 268.03,292.35 268.59,290.73 269.15,289.11 269.71,287.49 270.27,285.87 270.83,284.25 271.4,282.64 271.96,281.03 272.52,279.41 273.08,277.81 273.64,276.2 274.2,274.59 274.76,272.99 275.32,271.39 275.89,269.8 276.45,268.2 277.01,266.62 277.57,265.03 278.13,263.45 278.69,261.87 279.25,260.3 279.81,258.74 280.37,257.18 280.94,255.62 281.5,254.07 282.06,252.53 282.62,251 283.18,249.47 283.74,247.95 284.3,246.44 284.86,244.94 285.43,243.45 285.99,241.97 286.55,240.5 287.11,239.04 287.67,237.59 288.23,236.15 288.79,234.73 289.35,233.32 289.91,231.92 290.48,230.54 291.04,229.18 291.6,227.83 292.16,226.5 292.72,225.19 293.28,223.89 293.84,222.62 294.4,221.36 294.97,220.13 295.53,218.92 296.09,217.73 296.65,216.57 297.21,215.43 297.77,214.32 298.33,213.23 298.89,212.17 299.45,211.15 300.02,210.15 300.58,209.18 301.14,208.25 301.7,207.35 302.26,206.48 302.82,205.65 303.38,204.86 303.94,204.11 304.5,203.4 304.57,204.45 304.68,206.19 304.83,208.16 305.01,210.16 305.21,212.08 305.43,213.89 305.67,215.59 305.93,217.21 306.2,218.76 306.49,220.28 306.8,221.78 307.12,223.28 307.45,224.79 307.8,226.32 308.15,227.87 308.53,229.45 308.91,231.06 309.3,232.7 309.71,234.35 310.12,236.04 310.55,237.74 310.99,239.46 311.43,241.19 311.89,242.94 312.36,244.7 312.83,246.48 313.32,248.26 313.81,250.05 314.31,251.84 314.83,253.64 315.35,255.44 315.88,257.24 316.41,259.04 316.96,260.84 317.51,262.64 318.07,264.43 318.64,266.21 319.22,267.99 319.8,269.77 320.4,271.53 321,273.28 321.6,275.03 322.22,276.76 322.84,278.48 323.47,280.19 324.1,281.89 324.74,283.57 325.39,285.24 326.05,286.89 326.71,288.53 327.38,290.15 328.06,291.76 328.74,293.34 329.43,294.91 330.13,296.47 330.83,298 331.54,299.52 332.25,301.01 332.97,302.49 333.7,303.95 334.43,305.39 335.17,306.81 335.91,308.21 336.67,309.59 337.42,310.95 338.19,312.29 338.95,313.61 339.73,314.91 340.51,316.18 341.29,317.44 342.08,318.68 342.88,319.9 343.68,321.09 344.49,322.27 345.3,323.43 346.12,324.56 346.95,325.68 347.78,326.77 348.61,327.85 349.45,328.9 350.3,329.94 351.15,330.96 352,331.95 352.86,332.93 353.73,333.89 354.6,334.83 355.48,335.75 356.36,336.65 357.25,337.53 358.14,338.4" fill="none" stroke="#ff1a1a" stroke-width="1.3" stroke-linejoin="round" stroke-linecap="round" />
<polyline points="254,338.4 254.44,335.46 254.87,332.84 255.31,330.47 255.74,328.27 256.18,326.21 256.61,324.26 257.05,322.38 257.48,320.57 257.92,318.8 258.36,317.06 258.79,315.36 259.23,313.67 259.66,311.99 260.1,310.33 260.53,308.68 260.97,307.03 261.4,305.39 261.84,303.75 262.28,302.12 262.71,300.49 263.15,298.86 263.58,297.23 264.02,295.6 264.45,293.98 264.89,292.35 265.32,290.73 265.76,289.11 266.2,287.49 266.63,285.87 267.07,284.25 267.5,282.64 267.94,281.03 268.37,279.41 268.81,277.81 269.25,276.2 269.68,274.59 270.12,272.99 270.55,271.39 270.99,269.8 271.42,268.2 271.86,266.62 272.29,265.03 272.73,263.45 273.17,261.87 273.6,260.3 274.04,258.74 274.47,257.18 274.91,255.62 275.34,254.07 275.78,252.53 276.21,251 276.65,249.47 277.09,247.95 277.52,246.44 277.96,244.94 278.39,243.45 278.83,241.97 279.26,240.5 279.7,239.04 280.13,237.59 280.57,236.15 281.01,234.73 281.44,233.32 281.88,231.92 282.31,230.54 282.75,229.18 283.18,227.83 283.62,226.5 284.05,225.19 284.49,223.89 284.93,222.62 285.36,221.36 285.8,220.13 286.23,218.92 286.67,217.73 287.1,216.57 287.54,215.43 287.97,214.32 288.41,213.23 288.85,212.17 289.28,211.15 289.72,210.15 290.15,209.18 290.59,208.25 291.02,207.35 291.46,206.48 291.89,205.65 292.33,204.86 292.77,204.11 293.2,203.4 293.25,204.46 293.33,206.23 293.45,208.22 293.58,210.24 293.73,212.2 293.89,214.05 294.07,215.79 294.27,217.45 294.47,219.05 294.69,220.6 294.92,222.15 295.16,223.69 295.41,225.25 295.67,226.83 295.93,228.43 296.21,230.06 296.5,231.72 296.79,233.4 297.1,235.1 297.41,236.83 297.73,238.57 298.06,240.34 298.39,242.11 298.73,243.91 299.08,245.71 299.44,247.52 299.8,249.34 300.17,251.17 300.55,252.99 300.93,254.82 301.32,256.66 301.72,258.49 302.12,260.31 302.53,262.14 302.94,263.96 303.36,265.77 303.79,267.58 304.22,269.37 304.66,271.16 305.1,272.94 305.55,274.71 306.01,276.46 306.47,278.2 306.93,279.93 307.4,281.64 307.88,283.34 308.36,285.02 308.84,286.69 309.34,288.34 309.83,289.97 310.33,291.58 310.84,293.17 311.35,294.75 311.87,296.3 312.39,297.84 312.91,299.36 313.44,300.85 313.98,302.33 314.52,303.79 315.06,305.22 315.61,306.63 316.17,308.02 316.72,309.4 317.29,310.74 317.85,312.07 318.42,313.38 319,314.66 319.58,315.93 320.16,317.17 320.75,318.39 321.34,319.58 321.94,320.76 322.54,321.92 323.15,323.05 323.75,324.16 324.37,325.25 324.99,326.32 325.61,327.37 326.23,328.4 326.86,329.41 327.49,330.4 328.13,331.37 328.77,332.31 329.42,333.24 330.06,334.15 330.72,335.04 331.37,335.91 332.03,336.76 332.7,337.59 333.37,338.4" fill="none" stroke="#1a1aff" stroke-width="1.3" stroke-linejoin="round" stroke-linecap="round" />
<polyline points="254,338.4 254.36,335.46 254.71,332.84 255.07,330.47 255.42,328.27 255.78,326.21 256.13,324.26 256.49,322.38 256.84,320.57 257.2,318.8 257.55,317.06 257.91,315.36 258.26,313.67 258.62,311.99 258.98,310.33 259.33,308.68 259.69,307.03 260.04,305.39 260.4,303.75 260.75,302.12 261.11,300.49 261.46,298.86 261.82,297.23 262.17,295.6 262.53,293.98 262.89,292.35 263.24,290.73 263.6,289.11 263.95,287.49 264.31,285.87 264.66,284.25 265.02,282.64 265.37,281.03 265.73,279.41 266.08,277.81 266.44,276.2 266.79,274.59 267.15,272.99 267.51,271.39 267.86,269.8 268.22,268.2 268.57,266.62 268.93,265.03 269.28,263.45 269.64,261.87 269.99,260.3 270.35,258.74 270.7,257.18 271.06,255.62 271.41,254.07 271.77,252.53 272.13,251 272.48,249.47 272.84,247.95 273.19,246.44 273.55,244.94 273.9,243.45 274.26,241.97 274.61,240.5 274.97,239.04 275.32,237.59 275.68,236.15 276.04,234.73 276.39,233.32 276.75,231.92 277.1,230.54 277.46,229.18 277.81,227.83 278.17,226.5 278.52,225.19 278.88,223.89 279.23,222.62 279.59,221.36 279.94,220.13 280.3,218.92 280.66,217.73 281.01,216.57 281.37,215.43 281.72,214.32 282.08,213.23 282.43,212.17 282.79,211.15 283.14,210.15 283.5,209.18 283.85,208.25 284.21,207.35 284.56,206.48 284.92,205.65 285.28,204.86 285.63,204.11 285.99,203.4 286.02,204.47 286.09,206.26 286.18,208.28 286.29,210.33 286.41,212.32 286.55,214.21 286.69,215.99 286.85,217.69 287.01,219.33 287.19,220.94 287.37,222.52 287.57,224.12 287.77,225.72 287.98,227.35 288.2,229 288.42,230.67 288.65,232.38 288.89,234.1 289.14,235.85 289.39,237.63 289.65,239.42 289.91,241.22 290.18,243.04 290.46,244.88 290.74,246.72 291.03,248.57 291.32,250.43 291.62,252.29 291.93,254.15 292.23,256.01 292.55,257.87 292.87,259.73 293.2,261.59 293.53,263.43 293.86,265.28 294.2,267.11 294.54,268.94 294.89,270.75 295.25,272.55 295.61,274.34 295.97,276.12 296.34,277.88 296.71,279.63 297.08,281.36 297.47,283.08 297.85,284.77 298.24,286.45 298.63,288.12 299.03,289.76 299.43,291.38 299.84,292.99 300.25,294.57 300.66,296.13 301.08,297.67 301.5,299.19 301.92,300.69 302.35,302.17 302.78,303.62 303.22,305.05 303.66,306.46 304.1,307.85 304.55,309.21 305,310.55 305.46,311.87 305.91,313.17 306.38,314.44 306.84,315.69 307.31,316.92 307.78,318.12 308.26,319.3 308.74,320.46 309.22,321.6 309.7,322.71 310.19,323.8 310.69,324.87 311.18,325.92 311.68,326.95 312.18,327.95 312.69,328.93 313.2,329.89 313.71,330.84 314.22,331.76 314.74,332.66 315.26,333.53 315.79,334.39 316.31,335.23 316.84,336.05 317.38,336.85 317.91,337.64 318.45,338.4" fill="none" stroke="#ff22ff" stroke-width="1.3" stroke-linejoin="round" stroke-linecap="round" />
<polyline points="254,338.4 254.3,335.46 254.61,332.84 254.91,330.47 255.22,328.27 255.52,326.21 255.83,324.26 256.13,322.38 256.44,320.57 256.74,318.8 257.05,317.06 257.35,315.36 257.66,313.67 257.96,311.99 258.26,310.33 258.57,308.68 258.87,307.03 259.18,305.39 259.48,303.75 259.79,302.12 260.09,300.49 260.4,298.86 260.7,297.23 261.01,295.6 261.31,293.98 261.62,292.35 261.92,290.73 262.23,289.11 262.53,287.49 262.83,285.87 263.14,284.25 263.44,282.64 263.75,281.03 264.05,279.41 264.36,277.81 264.66,276.2 264.97,274.59 265.27,272.99 265.58,271.39 265.88,269.8 266.19,268.2 266.49,266.62 266.79,265.03 267.1,263.45 267.4,261.87 267.71,260.3 268.01,258.74 268.32,257.18 268.62,255.62 268.93,254.07 269.23,252.53 269.54,251 269.84,249.47 270.15,247.95 270.45,246.44 270.75,244.94 271.06,243.45 271.36,241.97 271.67,240.5 271.97,239.04 272.28,237.59 272.58,236.15 272.89,234.73 273.19,233.32 273.5,231.92 273.8,230.54 274.11,229.18 274.41,227.83 274.72,226.5 275.02,225.19 275.32,223.89 275.63,222.62 275.93,221.36 276.24,220.13 276.54,218.92 276.85,217.73 277.15,216.57 277.46,215.43 277.76,214.32 278.07,213.23 278.37,212.17 278.68,211.15 278.98,210.15 279.28,209.18 279.59,208.25 279.89,207.35 280.2,206.48 280.5,205.65 280.81,204.86 281.11,204.11 281.42,203.4 281.45,204.47 281.51,206.26 281.59,208.28 281.68,210.33 281.78,212.32 281.9,214.21 282.02,215.99 282.16,217.69 282.3,219.33 282.45,220.94 282.61,222.52 282.78,224.12 282.96,225.72 283.14,227.35 283.32,229 283.52,230.67 283.72,232.38 283.92,234.1 284.13,235.85 284.35,237.63 284.57,239.42 284.8,241.22 285.04,243.04 285.28,244.88 285.52,246.72 285.77,248.57 286.02,250.43 286.28,252.29 286.54,254.15 286.81,256.01 287.08,257.87 287.36,259.73 287.64,261.59 287.92,263.43 288.21,265.28 288.51,267.11 288.8,268.94 289.1,270.75 289.41,272.55 289.72,274.34 290.03,276.12 290.35,277.88 290.67,279.63 290.99,281.36 291.32,283.08 291.65,284.77 291.99,286.45 292.33,288.12 292.67,289.76 293.02,291.38 293.37,292.99 293.72,294.57 294.08,296.13 294.44,297.67 294.8,299.19 295.17,300.69 295.54,302.17 295.91,303.62 296.29,305.05 296.67,306.46 297.05,307.85 297.44,309.21 297.83,310.55 298.22,311.87 298.61,313.17 299.01,314.44 299.41,315.69 299.82,316.92 300.23,318.12 300.64,319.3 301.05,320.46 301.47,321.6 301.88,322.71 302.31,323.8 302.73,324.87 303.16,325.92 303.59,326.95 304.02,327.95 304.46,328.93 304.9,329.89 305.34,330.84 305.78,331.76 306.23,332.66 306.68,333.53 307.13,334.39 307.59,335.23 308.05,336.05 308.51,336.85 308.97,337.64 309.44,338.4" fill="none" stroke="#119911" stroke-width="1.3" stroke-linejoin="round" stroke-linecap="round" />
<rect x="254.3" y="200.5" width="179.2" height="137.9" fill="none" stroke="#1a1a1a" stroke-width="1.3"/>
<line x1="251.5" y1="203.4" x2="254.3" y2="203.4" stroke="#1a1a1a" stroke-width="1.2" />
<text x="250.5" y="205.75" font-size="6.6" font-weight="bold" text-anchor="end" fill="#000" stroke="#000" stroke-width="0.22" font-family='"Liberation Sans", sans-serif' >1.0</text>
<line x1="251.5" y1="237.15" x2="254.3" y2="237.15" stroke="#1a1a1a" stroke-width="1.2" />
<text x="250.5" y="239.5" font-size="6.6" font-weight="bold" text-anchor="end" fill="#000" stroke="#000" stroke-width="0.22" font-family='"Liberation Sans", sans-serif' >0.5</text>
<line x1="251.5" y1="270.9" x2="254.3" y2="270.9" stroke="#1a1a1a" stroke-width="1.2" />
<text x="250.5" y="273.25" font-size="6.6" font-weight="bold" text-anchor="end" fill="#000" stroke="#000" stroke-width="0.22" font-family='"Liberation Sans", sans-serif' >0.0</text>
<line x1="251.5" y1="304.65" x2="254.3" y2="304.65" stroke="#1a1a1a" stroke-width="1.2" />
<text x="250.5" y="307" font-size="6.6" font-weight="bold" text-anchor="end" fill="#000" stroke="#000" stroke-width="0.22" font-family='"Liberation Sans", sans-serif' >-0.5</text>
<line x1="251.5" y1="338.4" x2="254.3" y2="338.4" stroke="#1a1a1a" stroke-width="1.2" />
<text x="250.5" y="340.75" font-size="6.6" font-weight="bold" text-anchor="end" fill="#000" stroke="#000" stroke-width="0.22" font-family='"Liberation Sans", sans-serif' >-1.0</text>
<line x1="252.62" y1="220.27" x2="254.3" y2="220.27" stroke="#1a1a1a" stroke-width="1" />
<line x1="252.62" y1="254.02" x2="254.3" y2="254.02" stroke="#1a1a1a" stroke-width="1" />
<line x1="252.62" y1="287.77" x2="254.3" y2="287.77" stroke="#1a1a1a" stroke-width="1" />
<line x1="252.62" y1="321.52" x2="254.3" y2="321.52" stroke="#1a1a1a" stroke-width="1" />
<line x1="254" y1="338.4" x2="254" y2="341.2" stroke="#1a1a1a" stroke-width="1.2" />
<text x="254" y="348.2" font-size="6.6" font-weight="bold" text-anchor="middle" fill="#000" stroke="#000" stroke-width="0.22" font-family='"Liberation Sans", sans-serif' >0</text>
<line x1="278.05" y1="338.4" x2="278.05" y2="341.2" stroke="#1a1a1a" stroke-width="1.2" />
<text x="278.05" y="348.2" font-size="6.6" font-weight="bold" text-anchor="middle" fill="#000" stroke="#000" stroke-width="0.22" font-family='"Liberation Sans", sans-serif' >20</text>
<line x1="302.1" y1="338.4" x2="302.1" y2="341.2" stroke="#1a1a1a" stroke-width="1.2" />
<text x="302.1" y="348.2" font-size="6.6" font-weight="bold" text-anchor="middle" fill="#000" stroke="#000" stroke-width="0.22" font-family='"Liberation Sans", sans-serif' >40</text>
<line x1="326.15" y1="338.4" x2="326.15" y2="341.2" stroke="#1a1a1a" stroke-width="1.2" />
<text x="326.15" y="348.2" font-size="6.6" font-weight="bold" text-anchor="middle" fill="#000" stroke="#000" stroke-width="0.22" font-family='"Liberation Sans", sans-serif' >60</text>
<line x1="350.2" y1="338.4" x2="350.2" y2="341.2" stroke="#1a1a1a" stroke-width="1.2" />
<text x="350.2" y="348.2" font-size="6.6" font-weight="bold" text-anchor="middle" fill="#000" stroke="#000" stroke-width="0.22" font-family='"Liberation Sans", sans-serif' >80</text>
<line x1="374.25" y1="338.4" x2="374.25" y2="341.2" stroke="#1a1a1a" stroke-width="1.2" />
<text x="374.25" y="348.2" font-size="6.6" font-weight="bold" text-anchor="middle" fill="#000" stroke="#000" stroke-width="0.22" font-family='"Liberation Sans", sans-serif' >100</text>
<line x1="398.3" y1="338.4" x2="398.3" y2="341.2" stroke="#1a1a1a" stroke-width="1.2" />
<text x="398.3" y="348.2" font-size="6.6" font-weight="bold" text-anchor="middle" fill="#000" stroke="#000" stroke-width="0.22" font-family='"Liberation Sans", sans-serif' >120</text>
<line x1="422.35" y1="338.4" x2="422.35" y2="341.2" stroke="#1a1a1a" stroke-width="1.2" />
<text x="422.35" y="348.2" font-size="6.6" font-weight="bold" text-anchor="middle" fill="#000" stroke="#000" stroke-width="0.22" font-family='"Liberation Sans", sans-serif' >140</text>
<line x1="266.02" y1="338.4" x2="266.02" y2="340.08" stroke="#1a1a1a" stroke-width="1" />
<line x1="290.07" y1="338.4" x2="290.07" y2="340.08" stroke="#1a1a1a" stroke-width="1" />
<line x1="314.12" y1="338.4" x2="314.12" y2="340.08" stroke="#1a1a1a" stroke-width="1" />
<line x1="338.18" y1="338.4" x2="338.18" y2="340.08" stroke="#1a1a1a" stroke-width="1" />
<line x1="362.23" y1="338.4" x2="362.23" y2="340.08" stroke="#1a1a1a" stroke-width="1" />
<line x1="386.27" y1="338.4" x2="386.27" y2="340.08" stroke="#1a1a1a" stroke-width="1" />
<line x1="410.32" y1="338.4" x2="410.32" y2="340.08" stroke="#1a1a1a" stroke-width="1" />
<text x="344.8" y="356.4" font-size="7.8" font-weight="bold" text-anchor="middle" fill="#000" stroke="#000" stroke-width="0.22" font-family='"Liberation Sans", sans-serif' >Time (s)</text>
<text transform="translate(235.2,266.5) rotate(-90)" font-size="8.25" font-weight="bold" text-anchor="middle" fill="#000" stroke="#000" stroke-width="0.22" font-family='"Liberation Sans", sans-serif'>Potential (V vs Ag/AgCl)</text>
<rect x="381.6" y="203.2" width="50.6" height="51" fill="#111"/>
<rect x="380" y="201.6" width="50.6" height="51" fill="#fff" stroke="#999" stroke-width="0.6"/>
<line x1="382.3" y1="209.6" x2="396.8" y2="209.6" stroke="#111111" stroke-width="1.1" />
<text x="398.4" y="211.9" font-size="6.6" font-weight="bold" fill="#111111" stroke="#111111" stroke-width="0.22" font-family='"Liberation Sans", sans-serif'>6 mA/cm<tspan dy="-3.0" dx="0.5" font-size="3.8">2</tspan></text>
<line x1="382.3" y1="219.4" x2="396.8" y2="219.4" stroke="#ff1a1a" stroke-width="1.1" />
<text x="398.4" y="221.7" font-size="6.6" font-weight="bold" fill="#ff1a1a" stroke="#ff1a1a" stroke-width="0.22" font-family='"Liberation Sans", sans-serif'>5 mA/cm<tspan dy="-3.0" dx="0.5" font-size="3.8">2</tspan></text>
<line x1="382.3" y1="229.2" x2="396.8" y2="229.2" stroke="#1a1aff" stroke-width="1.1" />
<text x="398.4" y="231.5" font-size="6.6" font-weight="bold" fill="#1a1aff" stroke="#1a1aff" stroke-width="0.22" font-family='"Liberation Sans", sans-serif'>4 mA/cm<tspan dy="-3.0" dx="0.5" font-size="3.8">2</tspan></text>
<line x1="382.3" y1="239.1" x2="396.8" y2="239.1" stroke="#ff22ff" stroke-width="1.1" />
<text x="398.4" y="241.4" font-size="6.6" font-weight="bold" fill="#ff22ff" stroke="#ff22ff" stroke-width="0.22" font-family='"Liberation Sans", sans-serif'>3 mA/cm<tspan dy="-3.0" dx="0.5" font-size="3.8">2</tspan></text>
<line x1="382.3" y1="248.9" x2="396.8" y2="248.9" stroke="#119911" stroke-width="1.1" />
<text x="398.4" y="251.2" font-size="6.6" font-weight="bold" fill="#118080" stroke="#118080" stroke-width="0.22" font-family='"Liberation Sans", sans-serif'>2 mA/cm<tspan dy="-3.0" dx="0.5" font-size="3.8">2</tspan></text>
<text x="36.9" y="379" font-size="11.2" font-weight="normal" text-anchor="start" fill="#000" stroke="#000" stroke-width="0.22" font-family='"Liberation Sans", sans-serif' >(e)</text>
<polyline points="34.4,521.3 35.27,517.98 36.13,515.07 37,512.46 37.87,510.08 38.74,507.87 39.6,505.8 40.47,503.83 41.34,501.93 42.2,500.09 43.07,498.3 43.94,496.53 44.8,494.8 45.67,493.08 46.54,491.37 47.41,489.68 48.27,488 49.14,486.32 50.01,484.64 50.87,482.97 51.74,481.31 52.61,479.64 53.48,477.98 54.34,476.32 55.21,474.66 56.08,473 56.94,471.34 57.81,469.68 58.68,468.02 59.55,466.37 60.41,464.71 61.28,463.06 62.15,461.4 63.01,459.75 63.88,458.1 64.75,456.45 65.61,454.81 66.48,453.16 67.35,451.52 68.22,449.88 69.08,448.24 69.95,446.6 70.82,444.97 71.68,443.34 72.55,441.72 73.42,440.1 74.29,438.48 75.15,436.87 76.02,435.26 76.89,433.66 77.75,432.07 78.62,430.48 79.49,428.9 80.36,427.33 81.22,425.77 82.09,424.21 82.96,422.67 83.82,421.14 84.69,419.62 85.56,418.11 86.42,416.61 87.29,415.13 88.16,413.67 89.03,412.22 89.89,410.78 90.76,409.37 91.63,407.98 92.49,406.6 93.36,405.25 94.23,403.92 95.1,402.62 95.96,401.34 96.83,400.1 97.7,398.88 98.56,397.69 99.43,396.53 100.3,395.41 101.16,394.33 102.03,393.29 102.9,392.28 103.77,391.32 104.63,390.41 105.5,389.54 106.37,388.72 107.23,387.95 108.1,387.24 108.97,386.59 109.84,385.99 110.7,385.46 111.57,385 112.44,384.6 112.54,385.69 112.73,387.49 112.98,389.54 113.27,391.62 113.6,393.63 113.97,395.54 114.36,397.35 114.79,399.07 115.25,400.73 115.73,402.36 116.23,403.97 116.76,405.58 117.31,407.2 117.89,408.85 118.48,410.52 119.09,412.22 119.73,413.94 120.38,415.69 121.05,417.46 121.74,419.26 122.45,421.07 123.17,422.9 123.91,424.74 124.67,426.6 125.44,428.46 126.23,430.34 127.03,432.22 127.85,434.1 128.68,435.99 129.53,437.87 130.39,439.76 131.27,441.64 132.16,443.52 133.06,445.39 133.98,447.26 134.91,449.11 135.85,450.96 136.8,452.8 137.77,454.62 138.75,456.44 139.75,458.24 140.75,460.02 141.77,461.79 142.8,463.54 143.84,465.28 144.89,467 145.96,468.7 147.03,470.38 148.12,472.05 149.22,473.69 150.32,475.31 151.44,476.92 152.57,478.5 153.72,480.06 154.87,481.6 156.03,483.11 157.2,484.61 158.39,486.08 159.58,487.53 160.78,488.96 162,490.36 163.22,491.74 164.45,493.1 165.7,494.44 166.95,495.75 168.21,497.04 169.49,498.3 170.77,499.54 172.06,500.76 173.36,501.96 174.67,503.13 175.99,504.28 177.32,505.41 178.66,506.52 180,507.6 181.36,508.66 182.72,509.7 184.1,510.72 185.48,511.71 186.87,512.69 188.27,513.64 189.68,514.57 191.1,515.48 192.52,516.37 193.96,517.24 195.4,518.09 196.85,518.92 198.31,519.74 199.78,520.53 201.26,521.3" fill="none" stroke="#111111" stroke-width="1.3" stroke-linejoin="round" stroke-linecap="round" />
<polyline points="34.4,521.3 34.97,517.98 35.55,515.07 36.12,512.46 36.69,510.08 37.27,507.87 37.84,505.8 38.41,503.83 38.99,501.93 39.56,500.09 40.13,498.3 40.71,496.53 41.28,494.8 41.85,493.08 42.43,491.37 43,489.68 43.57,488 44.15,486.32 44.72,484.64 45.29,482.97 45.87,481.31 46.44,479.64 47.01,477.98 47.59,476.32 48.16,474.66 48.73,473 49.31,471.34 49.88,469.68 50.45,468.02 51.03,466.37 51.6,464.71 52.17,463.06 52.75,461.4 53.32,459.75 53.89,458.1 54.47,456.45 55.04,454.81 55.61,453.16 56.19,451.52 56.76,449.88 57.33,448.24 57.91,446.6 58.48,444.97 59.05,443.34 59.63,441.72 60.2,440.1 60.77,438.48 61.34,436.87 61.92,435.26 62.49,433.66 63.06,432.07 63.64,430.48 64.21,428.9 64.78,427.33 65.36,425.77 65.93,424.21 66.5,422.67 67.08,421.14 67.65,419.62 68.22,418.11 68.8,416.61 69.37,415.13 69.94,413.67 70.52,412.22 71.09,410.78 71.66,409.37 72.24,407.98 72.81,406.6 73.38,405.25 73.96,403.92 74.53,402.62 75.1,401.34 75.68,400.1 76.25,398.88 76.82,397.69 77.4,396.53 77.97,395.41 78.54,394.33 79.12,393.29 79.69,392.28 80.26,391.32 80.84,390.41 81.41,389.54 81.98,388.72 82.56,387.95 83.13,387.24 83.7,386.59 84.28,385.99 84.85,385.46 85.42,385 86,384.6 86.06,385.69 86.18,387.49 86.33,389.54 86.51,391.62 86.72,393.63 86.95,395.54 87.19,397.35 87.46,399.07 87.74,400.73 88.04,402.36 88.35,403.97 88.68,405.58 89.03,407.2 89.38,408.85 89.75,410.52 90.13,412.22 90.53,413.94 90.93,415.69 91.35,417.46 91.78,419.26 92.22,421.07 92.67,422.9 93.13,424.74 93.6,426.6 94.08,428.46 94.57,430.34 95.07,432.22 95.57,434.1 96.09,435.99 96.62,437.87 97.15,439.76 97.7,441.64 98.25,443.52 98.81,445.39 99.38,447.26 99.96,449.11 100.54,450.96 101.14,452.8 101.74,454.62 102.35,456.44 102.97,458.24 103.59,460.02 104.22,461.79 104.86,463.54 105.51,465.28 106.16,467 106.82,468.7 107.49,470.38 108.17,472.05 108.85,473.69 109.54,475.31 110.24,476.92 110.94,478.5 111.65,480.06 112.36,481.6 113.09,483.11 113.81,484.61 114.55,486.08 115.29,487.53 116.04,488.96 116.79,490.36 117.55,491.74 118.32,493.1 119.09,494.44 119.87,495.75 120.66,497.04 121.45,498.3 122.24,499.54 123.05,500.76 123.85,501.96 124.67,503.13 125.49,504.28 126.31,505.41 127.14,506.52 127.98,507.6 128.82,508.66 129.67,509.7 130.53,510.72 131.38,511.71 132.25,512.69 133.12,513.64 133.99,514.57 134.88,515.48 135.76,516.37 136.65,517.24 137.55,518.09 138.45,518.92 139.36,519.74 140.27,520.53 141.19,521.3" fill="none" stroke="#ff1a1a" stroke-width="1.3" stroke-linejoin="round" stroke-linecap="round" />
<polyline points="34.4,521.3 34.84,517.98 35.29,515.07 35.73,512.46 36.18,510.08 36.62,507.87 37.07,505.8 37.51,503.83 37.96,501.93 38.4,500.09 38.85,498.3 39.29,496.53 39.74,494.8 40.18,493.08 40.63,491.37 41.07,489.68 41.52,488 41.96,486.32 42.41,484.64 42.85,482.97 43.3,481.31 43.74,479.64 44.19,477.98 44.63,476.32 45.08,474.66 45.52,473 45.97,471.34 46.41,469.68 46.86,468.02 47.3,466.37 47.75,464.71 48.19,463.06 48.64,461.4 49.08,459.75 49.53,458.1 49.97,456.45 50.42,454.81 50.86,453.16 51.31,451.52 51.75,449.88 52.2,448.24 52.64,446.6 53.09,444.97 53.53,443.34 53.98,441.72 54.42,440.1 54.87,438.48 55.31,436.87 55.76,435.26 56.2,433.66 56.65,432.07 57.09,430.48 57.54,428.9 57.98,427.33 58.43,425.77 58.87,424.21 59.32,422.67 59.76,421.14 60.21,419.62 60.65,418.11 61.1,416.61 61.54,415.13 61.99,413.67 62.43,412.22 62.88,410.78 63.32,409.37 63.77,407.98 64.21,406.6 64.66,405.25 65.1,403.92 65.55,402.62 65.99,401.34 66.44,400.1 66.88,398.88 67.33,397.69 67.77,396.53 68.22,395.41 68.66,394.33 69.11,393.29 69.55,392.28 70,391.32 70.44,390.41 70.89,389.54 71.33,388.72 71.78,387.95 72.22,387.24 72.67,386.59 73.11,385.99 73.56,385.46 74,385 74.45,384.6 74.49,385.69 74.58,387.49 74.7,389.54 74.83,391.62 74.98,393.63 75.15,395.54 75.34,397.35 75.53,399.07 75.74,400.73 75.97,402.36 76.2,403.97 76.44,405.58 76.7,407.2 76.97,408.85 77.24,410.52 77.52,412.22 77.82,413.94 78.12,415.69 78.43,417.46 78.75,419.26 79.07,421.07 79.41,422.9 79.75,424.74 80.1,426.6 80.46,428.46 80.82,430.34 81.19,432.22 81.57,434.1 81.96,435.99 82.35,437.87 82.75,439.76 83.15,441.64 83.56,443.52 83.98,445.39 84.41,447.26 84.84,449.11 85.27,450.96 85.71,452.8 86.16,454.62 86.61,456.44 87.07,458.24 87.54,460.02 88.01,461.79 88.49,463.54 88.97,465.28 89.45,467 89.95,468.7 90.44,470.38 90.94,472.05 91.45,473.69 91.97,475.31 92.48,476.92 93.01,478.5 93.53,480.06 94.07,481.6 94.6,483.11 95.15,484.61 95.69,486.08 96.25,487.53 96.8,488.96 97.36,490.36 97.93,491.74 98.5,493.1 99.07,494.44 99.65,495.75 100.24,497.04 100.83,498.3 101.42,499.54 102.02,500.76 102.62,501.96 103.22,503.13 103.83,504.28 104.45,505.41 105.07,506.52 105.69,507.6 106.32,508.66 106.95,509.7 107.58,510.72 108.22,511.71 108.87,512.69 109.51,513.64 110.16,514.57 110.82,515.48 111.48,516.37 112.14,517.24 112.81,518.09 113.48,518.92 114.16,519.74 114.83,520.53 115.52,521.3" fill="none" stroke="#1a1aff" stroke-width="1.3" stroke-linejoin="round" stroke-linecap="round" />
<polyline points="34.4,521.3 34.77,517.98 35.13,515.07 35.5,512.46 35.86,510.08 36.23,507.87 36.59,505.8 36.96,503.83 37.32,501.93 37.69,500.09 38.05,498.3 38.42,496.53 38.78,494.8 39.15,493.08 39.51,491.37 39.88,489.68 40.24,488 40.61,486.32 40.97,484.64 41.34,482.97 41.7,481.31 42.07,479.64 42.43,477.98 42.8,476.32 43.16,474.66 43.53,473 43.89,471.34 44.26,469.68 44.62,468.02 44.99,466.37 45.35,464.71 45.72,463.06 46.08,461.4 46.45,459.75 46.81,458.1 47.18,456.45 47.54,454.81 47.91,453.16 48.27,451.52 48.64,449.88 49,448.24 49.37,446.6 49.73,444.97 50.1,443.34 50.46,441.72 50.83,440.1 51.19,438.48 51.56,436.87 51.92,435.26 52.29,433.66 52.65,432.07 53.02,430.48 53.38,428.9 53.75,427.33 54.11,425.77 54.48,424.21 54.84,422.67 55.21,421.14 55.57,419.62 55.94,418.11 56.31,416.61 56.67,415.13 57.04,413.67 57.4,412.22 57.77,410.78 58.13,409.37 58.5,407.98 58.86,406.6 59.23,405.25 59.59,403.92 59.96,402.62 60.32,401.34 60.69,400.1 61.05,398.88 61.42,397.69 61.78,396.53 62.15,395.41 62.51,394.33 62.88,393.29 63.24,392.28 63.61,391.32 63.97,390.41 64.34,389.54 64.7,388.72 65.07,387.95 65.43,387.24 65.8,386.59 66.16,385.99 66.53,385.46 66.89,385 67.26,384.6 67.3,385.69 67.37,387.49 67.46,389.54 67.57,391.62 67.69,393.63 67.83,395.54 67.98,397.35 68.14,399.07 68.3,400.73 68.48,402.36 68.67,403.97 68.87,405.58 69.08,407.2 69.29,408.85 69.51,410.52 69.74,412.22 69.98,413.94 70.22,415.69 70.47,417.46 70.73,419.26 70.99,421.07 71.26,422.9 71.54,424.74 71.82,426.6 72.11,428.46 72.4,430.34 72.7,432.22 73,434.1 73.31,435.99 73.63,437.87 73.95,439.76 74.28,441.64 74.61,443.52 74.95,445.39 75.29,447.26 75.63,449.11 75.99,450.96 76.34,452.8 76.7,454.62 77.07,456.44 77.44,458.24 77.81,460.02 78.19,461.79 78.58,463.54 78.97,465.28 79.36,467 79.75,468.7 80.16,470.38 80.56,472.05 80.97,473.69 81.38,475.31 81.8,476.92 82.22,478.5 82.65,480.06 83.08,481.6 83.51,483.11 83.95,484.61 84.39,486.08 84.83,487.53 85.28,488.96 85.74,490.36 86.19,491.74 86.65,493.1 87.11,494.44 87.58,495.75 88.05,497.04 88.53,498.3 89.01,499.54 89.49,500.76 89.97,501.96 90.46,503.13 90.95,504.28 91.45,505.41 91.95,506.52 92.45,507.6 92.95,508.66 93.46,509.7 93.97,510.72 94.49,511.71 95.01,512.69 95.53,513.64 96.06,514.57 96.58,515.48 97.12,516.37 97.65,517.24 98.19,518.09 98.73,518.92 99.27,519.74 99.82,520.53 100.37,521.3" fill="none" stroke="#ff22ff" stroke-width="1.3" stroke-linejoin="round" stroke-linecap="round" />
<polyline points="34.4,521.3 34.71,517.98 35.02,515.07 35.33,512.46 35.64,510.08 35.95,507.87 36.27,505.8 36.58,503.83 36.89,501.93 37.2,500.09 37.51,498.3 37.82,496.53 38.13,494.8 38.44,493.08 38.75,491.37 39.06,489.68 39.37,488 39.69,486.32 40,484.64 40.31,482.97 40.62,481.31 40.93,479.64 41.24,477.98 41.55,476.32 41.86,474.66 42.17,473 42.48,471.34 42.79,469.68 43.1,468.02 43.42,466.37 43.73,464.71 44.04,463.06 44.35,461.4 44.66,459.75 44.97,458.1 45.28,456.45 45.59,454.81 45.9,453.16 46.21,451.52 46.52,449.88 46.84,448.24 47.15,446.6 47.46,444.97 47.77,443.34 48.08,441.72 48.39,440.1 48.7,438.48 49.01,436.87 49.32,435.26 49.63,433.66 49.94,432.07 50.26,430.48 50.57,428.9 50.88,427.33 51.19,425.77 51.5,424.21 51.81,422.67 52.12,421.14 52.43,419.62 52.74,418.11 53.05,416.61 53.36,415.13 53.68,413.67 53.99,412.22 54.3,410.78 54.61,409.37 54.92,407.98 55.23,406.6 55.54,405.25 55.85,403.92 56.16,402.62 56.47,401.34 56.78,400.1 57.1,398.88 57.41,397.69 57.72,396.53 58.03,395.41 58.34,394.33 58.65,393.29 58.96,392.28 59.27,391.32 59.58,390.41 59.89,389.54 60.2,388.72 60.51,387.95 60.83,387.24 61.14,386.59 61.45,385.99 61.76,385.46 62.07,385 62.38,384.6 62.41,385.69 62.47,387.49 62.55,389.54 62.64,391.62 62.75,393.63 62.86,395.54 62.99,397.35 63.12,399.07 63.27,400.73 63.42,402.36 63.58,403.97 63.74,405.58 63.92,407.2 64.1,408.85 64.28,410.52 64.48,412.22 64.68,413.94 64.88,415.69 65.09,417.46 65.31,419.26 65.53,421.07 65.76,422.9 66,424.74 66.23,426.6 66.48,428.46 66.72,430.34 66.98,432.22 67.24,434.1 67.5,435.99 67.77,437.87 68.04,439.76 68.31,441.64 68.59,443.52 68.88,445.39 69.17,447.26 69.46,449.11 69.76,450.96 70.06,452.8 70.36,454.62 70.67,456.44 70.98,458.24 71.3,460.02 71.62,461.79 71.94,463.54 72.27,465.28 72.6,467 72.94,468.7 73.28,470.38 73.62,472.05 73.97,473.69 74.32,475.31 74.67,476.92 75.02,478.5 75.38,480.06 75.75,481.6 76.11,483.11 76.48,484.61 76.86,486.08 77.23,487.53 77.61,488.96 77.99,490.36 78.38,491.74 78.77,493.1 79.16,494.44 79.55,495.75 79.95,497.04 80.35,498.3 80.76,499.54 81.16,500.76 81.57,501.96 81.99,503.13 82.4,504.28 82.82,505.41 83.24,506.52 83.67,507.6 84.09,508.66 84.52,509.7 84.96,510.72 85.39,511.71 85.83,512.69 86.27,513.64 86.71,514.57 87.16,515.48 87.61,516.37 88.06,517.24 88.52,518.09 88.97,518.92 89.43,519.74 89.9,520.53 90.36,521.3" fill="none" stroke="#119911" stroke-width="1.3" stroke-linejoin="round" stroke-linecap="round" />
<rect x="34.5" y="383.8" width="179.6" height="138.1" fill="none" stroke="#1a1a1a" stroke-width="1.3"/>
<line x1="31.7" y1="384.6" x2="34.5" y2="384.6" stroke="#1a1a1a" stroke-width="1.2" />
<text x="30.7" y="386.95" font-size="6.6" font-weight="bold" text-anchor="end" fill="#000" stroke="#000" stroke-width="0.22" font-family='"Liberation Sans", sans-serif' >1.0</text>
<line x1="31.7" y1="418.77" x2="34.5" y2="418.77" stroke="#1a1a1a" stroke-width="1.2" />
<text x="30.7" y="421.12" font-size="6.6" font-weight="bold" text-anchor="end" fill="#000" stroke="#000" stroke-width="0.22" font-family='"Liberation Sans", sans-serif' >0.5</text>
<line x1="31.7" y1="452.95" x2="34.5" y2="452.95" stroke="#1a1a1a" stroke-width="1.2" />
<text x="30.7" y="455.3" font-size="6.6" font-weight="bold" text-anchor="end" fill="#000" stroke="#000" stroke-width="0.22" font-family='"Liberation Sans", sans-serif' >0.0</text>
<line x1="31.7" y1="487.12" x2="34.5" y2="487.12" stroke="#1a1a1a" stroke-width="1.2" />
<text x="30.7" y="489.48" font-size="6.6" font-weight="bold" text-anchor="end" fill="#000" stroke="#000" stroke-width="0.22" font-family='"Liberation Sans", sans-serif' >-0.5</text>
<line x1="31.7" y1="521.3" x2="34.5" y2="521.3" stroke="#1a1a1a" stroke-width="1.2" />
<text x="30.7" y="523.65" font-size="6.6" font-weight="bold" text-anchor="end" fill="#000" stroke="#000" stroke-width="0.22" font-family='"Liberation Sans", sans-serif' >-1.0</text>
<line x1="32.82" y1="401.69" x2="34.5" y2="401.69" stroke="#1a1a1a" stroke-width="1" />
<line x1="32.82" y1="435.86" x2="34.5" y2="435.86" stroke="#1a1a1a" stroke-width="1" />
<line x1="32.82" y1="470.04" x2="34.5" y2="470.04" stroke="#1a1a1a" stroke-width="1" />
<line x1="32.82" y1="504.21" x2="34.5" y2="504.21" stroke="#1a1a1a" stroke-width="1" />
<line x1="34.4" y1="521.9" x2="34.4" y2="524.7" stroke="#1a1a1a" stroke-width="1.2" />
<text x="34.4" y="531.7" font-size="6.6" font-weight="bold" text-anchor="middle" fill="#000" stroke="#000" stroke-width="0.22" font-family='"Liberation Sans", sans-serif' >0</text>
<line x1="60.07" y1="521.9" x2="60.07" y2="524.7" stroke="#1a1a1a" stroke-width="1.2" />
<text x="60.07" y="531.7" font-size="6.6" font-weight="bold" text-anchor="middle" fill="#000" stroke="#000" stroke-width="0.22" font-family='"Liberation Sans", sans-serif' >10</text>
<line x1="85.74" y1="521.9" x2="85.74" y2="524.7" stroke="#1a1a1a" stroke-width="1.2" />
<text x="85.74" y="531.7" font-size="6.6" font-weight="bold" text-anchor="middle" fill="#000" stroke="#000" stroke-width="0.22" font-family='"Liberation Sans", sans-serif' >20</text>
<line x1="111.41" y1="521.9" x2="111.41" y2="524.7" stroke="#1a1a1a" stroke-width="1.2" />
<text x="111.41" y="531.7" font-size="6.6" font-weight="bold" text-anchor="middle" fill="#000" stroke="#000" stroke-width="0.22" font-family='"Liberation Sans", sans-serif' >30</text>
<line x1="137.08" y1="521.9" x2="137.08" y2="524.7" stroke="#1a1a1a" stroke-width="1.2" />
<text x="137.08" y="531.7" font-size="6.6" font-weight="bold" text-anchor="middle" fill="#000" stroke="#000" stroke-width="0.22" font-family='"Liberation Sans", sans-serif' >40</text>
<line x1="162.75" y1="521.9" x2="162.75" y2="524.7" stroke="#1a1a1a" stroke-width="1.2" />
<text x="162.75" y="531.7" font-size="6.6" font-weight="bold" text-anchor="middle" fill="#000" stroke="#000" stroke-width="0.22" font-family='"Liberation Sans", sans-serif' >50</text>
<line x1="188.42" y1="521.9" x2="188.42" y2="524.7" stroke="#1a1a1a" stroke-width="1.2" />
<text x="188.42" y="531.7" font-size="6.6" font-weight="bold" text-anchor="middle" fill="#000" stroke="#000" stroke-width="0.22" font-family='"Liberation Sans", sans-serif' >60</text>
<line x1="214.09" y1="521.9" x2="214.09" y2="524.7" stroke="#1a1a1a" stroke-width="1.2" />
<text x="214.09" y="531.7" font-size="6.6" font-weight="bold" text-anchor="middle" fill="#000" stroke="#000" stroke-width="0.22" font-family='"Liberation Sans", sans-serif' >70</text>
<line x1="47.23" y1="521.9" x2="47.23" y2="523.58" stroke="#1a1a1a" stroke-width="1" />
<line x1="72.91" y1="521.9" x2="72.91" y2="523.58" stroke="#1a1a1a" stroke-width="1" />
<line x1="98.58" y1="521.9" x2="98.58" y2="523.58" stroke="#1a1a1a" stroke-width="1" />
<line x1="124.25" y1="521.9" x2="124.25" y2="523.58" stroke="#1a1a1a" stroke-width="1" />
<line x1="149.92" y1="521.9" x2="149.92" y2="523.58" stroke="#1a1a1a" stroke-width="1" />
<line x1="175.59" y1="521.9" x2="175.59" y2="523.58" stroke="#1a1a1a" stroke-width="1" />
<line x1="201.26" y1="521.9" x2="201.26" y2="523.58" stroke="#1a1a1a" stroke-width="1" />
<text x="124.8" y="545.2" font-size="7.8" font-weight="bold" text-anchor="middle" fill="#000" stroke="#000" stroke-width="0.22" font-family='"Liberation Sans", sans-serif' >Time (s)</text>
<text transform="translate(16,453.2) rotate(-90)" font-size="8.25" font-weight="bold" text-anchor="middle" fill="#000" stroke="#000" stroke-width="0.22" font-family='"Liberation Sans", sans-serif'>Potential (V)</text>
<rect x="160.5" y="385.8" width="52.5" height="50.2" fill="#111"/>
<rect x="158.9" y="384.2" width="52.5" height="50.2" fill="#fff" stroke="#999" stroke-width="0.6"/>
<line x1="160.9" y1="390.4" x2="175.2" y2="390.4" stroke="#111111" stroke-width="1.1" />
<text x="177.2" y="392.7" font-size="6.6" font-weight="bold" fill="#111" stroke="#111" stroke-width="0.22" font-family='"Liberation Sans", sans-serif'>6 mA/cm<tspan dy="-3.0" dx="0.5" font-size="3.8">2</tspan></text>
<line x1="160.9" y1="400.5" x2="175.2" y2="400.5" stroke="#ff1a1a" stroke-width="1.1" />
<text x="177.2" y="402.8" font-size="6.6" font-weight="bold" fill="#ff1a1a" stroke="#ff1a1a" stroke-width="0.22" font-family='"Liberation Sans", sans-serif'>5mA/cm<tspan dy="-3.0" dx="0.5" font-size="3.8">2</tspan></text>
<line x1="160.9" y1="410.5" x2="175.2" y2="410.5" stroke="#1a1aff" stroke-width="1.1" />
<text x="177.2" y="412.8" font-size="6.6" font-weight="bold" fill="#1a1aff" stroke="#1a1aff" stroke-width="0.22" font-family='"Liberation Sans", sans-serif'>4mA/cm<tspan dy="-3.0" dx="0.5" font-size="3.8">2</tspan></text>
<line x1="160.9" y1="420.4" x2="175.2" y2="420.4" stroke="#ff22ff" stroke-width="1.1" />
<text x="177.2" y="422.7" font-size="6.6" font-weight="bold" fill="#ff77ff" stroke="#ff77ff" stroke-width="0.22" font-family='"Liberation Sans", sans-serif'>3mA/cm<tspan dy="-3.0" dx="0.5" font-size="3.8">2</tspan></text>
<line x1="160.9" y1="430.2" x2="175.2" y2="430.2" stroke="#119911" stroke-width="1.1" />
<text x="177.2" y="432.5" font-size="6.6" font-weight="bold" fill="#118080" stroke="#118080" stroke-width="0.22" font-family='"Liberation Sans", sans-serif'>2mA/cm<tspan dy="-3.0" dx="0.5" font-size="3.8">2</tspan></text>
<text x="254.6" y="379.3" font-size="11.2" font-weight="normal" text-anchor="start" fill="#000" stroke="#000" stroke-width="0.22" font-family='"Liberation Sans", sans-serif' >(f)</text>
<rect x="281.8" y="410.1" width="123.8" height="83.9" fill="#fff" stroke="#b0b0b0" stroke-width="0.9"/>
<polyline points="282.1,490.2 287.5,414.4 293.7,490.2 299.7,414.4 305.9,490.2 311.6,414.4 317.8,490.2 323.6,414.4 330,490.2 335.9,414.4 342.6,490.2 350.9,414.4 357.3,490.2 363.5,414.4 369.8,490.2 376,414.4 382.2,490.2 388.4,414.4 394.5,490.2 400.4,414.4 405.2,454.19" fill="none" stroke="#9a9a9a" stroke-width="1" stroke-linejoin="round" stroke-linecap="round" stroke-linejoin="miter" stroke-miterlimit="20"/>
<rect x="342.6" y="408.9" width="2.8" height="2.4" fill="#fff"/>
<line x1="341.9" y1="411.3" x2="343.3" y2="408.9" stroke="#999" stroke-width="0.6" />
<line x1="344.3" y1="411.3" x2="345.7" y2="408.9" stroke="#999" stroke-width="0.6" />
<rect x="342.6" y="492.8" width="2.8" height="2.4" fill="#fff"/>
<line x1="341.9" y1="495.2" x2="343.3" y2="492.8" stroke="#999" stroke-width="0.6" />
<line x1="344.3" y1="495.2" x2="345.7" y2="492.8" stroke="#999" stroke-width="0.6" />
<line x1="280" y1="414.4" x2="281.8" y2="414.4" stroke="#555" stroke-width="0.6" />
<text x="278.6" y="416.9" font-size="7.4" font-weight="bold" text-anchor="end" fill="#000" stroke="#000" stroke-width="0.1" font-family='"Liberation Serif", serif' >1.0</text>
<line x1="280" y1="433.35" x2="281.8" y2="433.35" stroke="#555" stroke-width="0.6" />
<text x="278.6" y="435.85" font-size="7.4" font-weight="bold" text-anchor="end" fill="#000" stroke="#000" stroke-width="0.1" font-family='"Liberation Serif", serif' >0.5</text>
<line x1="280" y1="452.3" x2="281.8" y2="452.3" stroke="#555" stroke-width="0.6" />
<text x="278.6" y="454.8" font-size="7.4" font-weight="bold" text-anchor="end" fill="#000" stroke="#000" stroke-width="0.1" font-family='"Liberation Serif", serif' >0.0</text>
<line x1="280" y1="471.25" x2="281.8" y2="471.25" stroke="#555" stroke-width="0.6" />
<text x="278.6" y="473.75" font-size="7.4" font-weight="bold" text-anchor="end" fill="#000" stroke="#000" stroke-width="0.1" font-family='"Liberation Serif", serif' >-0.5</text>
<line x1="280" y1="490.2" x2="281.8" y2="490.2" stroke="#555" stroke-width="0.6" />
<text x="278.6" y="492.7" font-size="7.4" font-weight="bold" text-anchor="end" fill="#000" stroke="#000" stroke-width="0.1" font-family='"Liberation Serif", serif' >-1.0</text>
<line x1="281.8" y1="494" x2="281.8" y2="495.6" stroke="#777" stroke-width="0.7" />
<text x="281.8" y="501.6" font-size="7.4" font-weight="bold" text-anchor="middle" fill="#000" stroke="#000" stroke-width="0.1" font-family='"Liberation Serif", serif' >0</text>
<line x1="305.6" y1="494" x2="305.6" y2="495.6" stroke="#777" stroke-width="0.7" />
<text x="305.6" y="501.6" font-size="7.4" font-weight="bold" text-anchor="middle" fill="#000" stroke="#000" stroke-width="0.1" font-family='"Liberation Serif", serif' >8</text>
<line x1="329.6" y1="494" x2="329.6" y2="495.6" stroke="#777" stroke-width="0.7" />
<text x="329.6" y="501.6" font-size="7.4" font-weight="bold" text-anchor="middle" fill="#000" stroke="#000" stroke-width="0.1" font-family='"Liberation Serif", serif' >16</text>
<line x1="347.9" y1="494" x2="347.9" y2="495.6" stroke="#777" stroke-width="0.7" />
<text x="347.9" y="501.6" font-size="7.4" font-weight="bold" text-anchor="middle" fill="#000" stroke="#000" stroke-width="0.1" font-family='"Liberation Serif", serif' >16,000</text>
<line x1="373.2" y1="494" x2="373.2" y2="495.6" stroke="#777" stroke-width="0.7" />
<text x="373.2" y="501.6" font-size="7.4" font-weight="bold" text-anchor="middle" fill="#000" stroke="#000" stroke-width="0.1" font-family='"Liberation Serif", serif' >16,008</text>
<line x1="397.6" y1="494" x2="397.6" y2="495.6" stroke="#777" stroke-width="0.7" />
<text x="397.6" y="501.6" font-size="7.4" font-weight="bold" text-anchor="middle" fill="#000" stroke="#000" stroke-width="0.1" font-family='"Liberation Serif", serif' >16,016</text>
<text x="343.8" y="510.6" font-size="7.9" font-weight="bold" text-anchor="middle" fill="#000" stroke="#000" stroke-width="0.1" font-family='"Liberation Serif", serif' >time (s)</text>
<text transform="translate(261.9,455) rotate(-90)" font-size="7" font-weight="bold" text-anchor="middle" fill="#000" stroke="#000" stroke-width="0.22" font-family='"Liberation Serif", serif'>Potential (V)</text>
<polyline points="249.6,391.5 266.55,393.3 283.5,394.8 300.45,396.2 317.4,396.4 334.35,398.4 351.3,399.4 368.25,400.7 385.2,400.7 393.67,402.5 402.15,403.8 419.1,403.8" fill="none" stroke="#111" stroke-width="1.4" stroke-linejoin="round" stroke-linecap="round" />
<circle cx="249.6" cy="391.5" r="1.9" fill="url(#gk)"/>
<circle cx="266.55" cy="393.3" r="1.9" fill="url(#gk)"/>
<circle cx="283.5" cy="394.8" r="1.9" fill="url(#gk)"/>
<circle cx="300.45" cy="396.2" r="1.9" fill="url(#gk)"/>
<circle cx="317.4" cy="396.4" r="1.9" fill="url(#gk)"/>
<circle cx="334.35" cy="398.4" r="1.9" fill="url(#gk)"/>
<circle cx="351.3" cy="399.4" r="1.9" fill="url(#gk)"/>
<circle cx="368.25" cy="400.7" r="1.9" fill="url(#gk)"/>
<circle cx="385.2" cy="400.7" r="1.9" fill="url(#gk)"/>
<circle cx="393.67" cy="402.5" r="1.9" fill="url(#gk)"/>
<circle cx="402.15" cy="403.8" r="1.9" fill="url(#gk)"/>
<circle cx="419.1" cy="403.8" r="1.9" fill="url(#gk)"/>
<polyline points="249.6,391.6 266.55,394.8 283.5,396 300.45,397 317.4,400.8 334.35,402.3 351.3,403.8 368.25,403.9 385.2,404.4 393.67,406 402.15,407.8 419.1,407.9" fill="none" stroke="#ff0000" stroke-width="1.4" stroke-linejoin="round" stroke-linecap="round" />
<circle cx="249.6" cy="391.6" r="1.9" fill="#ff1010"/>
<circle cx="266.55" cy="394.8" r="1.9" fill="#ff1010"/>
<circle cx="283.5" cy="396" r="1.9" fill="#ff1010"/>
<circle cx="300.45" cy="397" r="1.9" fill="#ff1010"/>
<circle cx="317.4" cy="400.8" r="1.9" fill="#ff1010"/>
<circle cx="334.35" cy="402.3" r="1.9" fill="#ff1010"/>
<circle cx="351.3" cy="403.8" r="1.9" fill="#ff1010"/>
<circle cx="368.25" cy="403.9" r="1.9" fill="#ff1010"/>
<circle cx="385.2" cy="404.4" r="1.9" fill="#ff1010"/>
<circle cx="393.67" cy="406" r="1.9" fill="#ff1010"/>
<circle cx="402.15" cy="407.8" r="1.9" fill="#ff1010"/>
<circle cx="419.1" cy="407.9" r="1.9" fill="#ff1010"/>
<rect x="248.3" y="383.3" width="179.3" height="138.6" fill="none" stroke="#1a1a1a" stroke-width="1.3"/>
<line x1="245.5" y1="391.52" x2="248.3" y2="391.52" stroke="#1a1a1a" stroke-width="1.2" />
<text x="244.5" y="393.87" font-size="6.6" font-weight="bold" text-anchor="end" fill="#000" stroke="#000" stroke-width="0.22" font-family='"Liberation Sans", sans-serif' >100</text>
<line x1="245.5" y1="424.14" x2="248.3" y2="424.14" stroke="#1a1a1a" stroke-width="1.2" />
<text x="244.5" y="426.49" font-size="6.6" font-weight="bold" text-anchor="end" fill="#000" stroke="#000" stroke-width="0.22" font-family='"Liberation Sans", sans-serif' >75</text>
<line x1="245.5" y1="456.76" x2="248.3" y2="456.76" stroke="#1a1a1a" stroke-width="1.2" />
<text x="244.5" y="459.11" font-size="6.6" font-weight="bold" text-anchor="end" fill="#000" stroke="#000" stroke-width="0.22" font-family='"Liberation Sans", sans-serif' >50</text>
<line x1="245.5" y1="489.38" x2="248.3" y2="489.38" stroke="#1a1a1a" stroke-width="1.2" />
<text x="244.5" y="491.73" font-size="6.6" font-weight="bold" text-anchor="end" fill="#000" stroke="#000" stroke-width="0.22" font-family='"Liberation Sans", sans-serif' >25</text>
<line x1="245.5" y1="522" x2="248.3" y2="522" stroke="#1a1a1a" stroke-width="1.2" />
<text x="244.5" y="524.35" font-size="6.6" font-weight="bold" text-anchor="end" fill="#000" stroke="#000" stroke-width="0.22" font-family='"Liberation Sans", sans-serif' >0</text>
<line x1="246.62" y1="407.83" x2="248.3" y2="407.83" stroke="#1a1a1a" stroke-width="1" />
<line x1="246.62" y1="440.45" x2="248.3" y2="440.45" stroke="#1a1a1a" stroke-width="1" />
<line x1="246.62" y1="473.07" x2="248.3" y2="473.07" stroke="#1a1a1a" stroke-width="1" />
<line x1="246.62" y1="505.69" x2="248.3" y2="505.69" stroke="#1a1a1a" stroke-width="1" />
<line x1="249.6" y1="521.9" x2="249.6" y2="524.7" stroke="#1a1a1a" stroke-width="1.2" />
<text x="249.6" y="531.7" font-size="6.6" font-weight="bold" text-anchor="middle" fill="#000" stroke="#000" stroke-width="0.22" font-family='"Liberation Sans", sans-serif' >0</text>
<line x1="283.5" y1="521.9" x2="283.5" y2="524.7" stroke="#1a1a1a" stroke-width="1.2" />
<text x="283.5" y="531.7" font-size="6.6" font-weight="bold" text-anchor="middle" fill="#000" stroke="#000" stroke-width="0.22" font-family='"Liberation Sans", sans-serif' >2000</text>
<line x1="317.4" y1="521.9" x2="317.4" y2="524.7" stroke="#1a1a1a" stroke-width="1.2" />
<text x="317.4" y="531.7" font-size="6.6" font-weight="bold" text-anchor="middle" fill="#000" stroke="#000" stroke-width="0.22" font-family='"Liberation Sans", sans-serif' >4000</text>
<line x1="351.3" y1="521.9" x2="351.3" y2="524.7" stroke="#1a1a1a" stroke-width="1.2" />
<text x="351.3" y="531.7" font-size="6.6" font-weight="bold" text-anchor="middle" fill="#000" stroke="#000" stroke-width="0.22" font-family='"Liberation Sans", sans-serif' >6000</text>
<line x1="385.2" y1="521.9" x2="385.2" y2="524.7" stroke="#1a1a1a" stroke-width="1.2" />
<text x="385.2" y="531.7" font-size="6.6" font-weight="bold" text-anchor="middle" fill="#000" stroke="#000" stroke-width="0.22" font-family='"Liberation Sans", sans-serif' >8000</text>
<line x1="419.1" y1="521.9" x2="419.1" y2="524.7" stroke="#1a1a1a" stroke-width="1.2" />
<text x="419.1" y="531.7" font-size="6.6" font-weight="bold" text-anchor="middle" fill="#000" stroke="#000" stroke-width="0.22" font-family='"Liberation Sans", sans-serif' >10,000</text>
<line x1="266.55" y1="521.9" x2="266.55" y2="523.58" stroke="#1a1a1a" stroke-width="1" />
<line x1="300.45" y1="521.9" x2="300.45" y2="523.58" stroke="#1a1a1a" stroke-width="1" />
<line x1="334.35" y1="521.9" x2="334.35" y2="523.58" stroke="#1a1a1a" stroke-width="1" />
<line x1="368.25" y1="521.9" x2="368.25" y2="523.58" stroke="#1a1a1a" stroke-width="1" />
<line x1="402.15" y1="521.9" x2="402.15" y2="523.58" stroke="#1a1a1a" stroke-width="1" />
<text x="336.8" y="545" font-size="7.8" font-weight="bold" text-anchor="middle" fill="#000" stroke="#000" stroke-width="0.22" font-family='"Liberation Sans", sans-serif' >Cycle number</text>
<text transform="translate(231.3,457.6) rotate(-90)" font-size="8.25" font-weight="bold" text-anchor="middle" fill="#000" stroke="#000" stroke-width="0.22" font-family='"Liberation Sans", sans-serif'>Columbic efficiencies %</text>
<rect x="372" y="507.3" width="51.3" height="12.3" fill="#111"/>
<rect x="371" y="506.3" width="51.3" height="12.3" fill="#fff" stroke="#999" stroke-width="0.6"/>
<line x1="373" y1="510.4" x2="383.8" y2="510.4" stroke="#111" stroke-width="1.4" />
<circle cx="378.4" cy="510.4" r="2.0" fill="url(#gk)"/>
<line x1="373" y1="515.3" x2="383.8" y2="515.3" stroke="#ff0000" stroke-width="1.4" />
<circle cx="378.4" cy="515.3" r="2.0" fill="url(#gr)"/>
<text x="384.9" y="512.3" font-size="5" font-weight="normal" text-anchor="start" fill="#111" stroke="#111" stroke-width="0.15" font-family='"Liberation Sans", sans-serif' >TPE-CPOP1-800</text>
<text x="384.9" y="517.2" font-size="5" font-weight="normal" text-anchor="start" fill="#111" stroke="#111" stroke-width="0.15" font-family='"Liberation Sans", sans-serif' >TPE-CPOP2-800</text>
</svg>
</body></html>
